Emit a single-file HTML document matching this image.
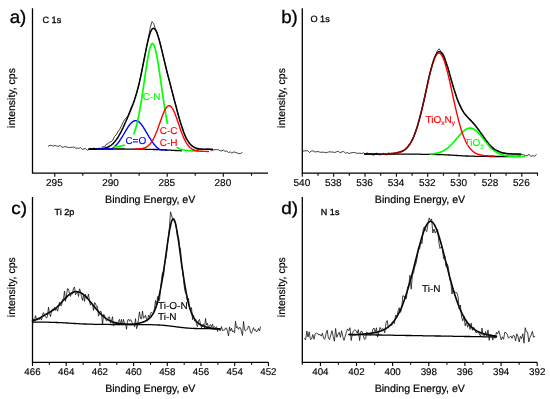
<!DOCTYPE html>
<html><head><meta charset="utf-8"><title>XPS spectra</title>
<style>html,body{margin:0;padding:0;background:#fff}svg{display:block}text{text-rendering:geometricPrecision}</style></head>
<body>
<svg width="550" height="399" viewBox="0 0 550 399">
<rect width="550" height="399" fill="#fff"/>
<path d="M32.5,8.3 V173.2 H268" fill="none" stroke="#000" stroke-width="1.3" stroke-linejoin="miter"/>
<path d="M54.8,173.2 v3.6M111.0,173.2 v3.6M167.2,173.2 v3.6M223.3,173.2 v3.6M82.8,173.2 v2.5M139.1,173.2 v2.5M195.2,173.2 v2.5M251.5,173.2 v2.5" stroke="#000" stroke-width="1.1" fill="none"/>
<text x="54.4" y="186.4" font-size="10.0" text-anchor="middle" font-family="Liberation Sans, Arial, sans-serif" fill="#000" stroke="#000" stroke-width="0.15">295</text>
<text x="110.5" y="186.4" font-size="10.0" text-anchor="middle" font-family="Liberation Sans, Arial, sans-serif" fill="#000" stroke="#000" stroke-width="0.15">290</text>
<text x="166.8" y="186.4" font-size="10.0" text-anchor="middle" font-family="Liberation Sans, Arial, sans-serif" fill="#000" stroke="#000" stroke-width="0.15">285</text>
<text x="222.9" y="186.4" font-size="10.0" text-anchor="middle" font-family="Liberation Sans, Arial, sans-serif" fill="#000" stroke="#000" stroke-width="0.15">280</text>
<text x="150.2" y="202.7" font-size="10.65" text-anchor="middle" font-family="Liberation Sans, Arial, sans-serif" fill="#000" stroke="#000" stroke-width="0.2">Binding Energy, eV</text>
<text transform="translate(15,98) rotate(-90)" font-size="10.5" text-anchor="middle" font-family="Liberation Sans, Arial, sans-serif" fill="#000" stroke="#000" stroke-width="0.2">intensity, cps</text>
<text transform="translate(9.7,23.0) scale(1.04,1)" font-size="18" font-family="Liberation Sans, Arial, sans-serif" fill="#000" stroke="#000" stroke-width="0.3">a)</text>
<text transform="translate(42.5,22.5) scale(1.0,1)" font-size="9.1" font-family="Liberation Sans, Arial, sans-serif" fill="#000" stroke="#000" stroke-width="0.3">C 1s</text>
<path d="M48.3,146.3 L50.0,145.2 L51.7,145.6 L53.4,146.0 L55.1,145.5 L56.8,146.1 L58.5,146.3 L60.2,145.4 L61.9,147.2 L63.6,147.1 L65.3,146.6 L67.0,147.0 L68.7,147.6 L70.4,147.3 L72.1,147.4 L73.8,146.9 L75.5,148.2 L77.2,148.1 L78.9,148.4 L80.6,147.5 L82.3,149.5 L84.0,148.8 L85.7,148.6 L87.4,150.3 L89.1,149.2 L90.8,148.4 L92.5,149.0 L94.2,147.8 L95.9,149.6 L97.6,148.6 L99.3,148.1 L101.0,148.8 L102.7,146.5 L104.4,147.0 L106.1,144.4 L107.8,143.9 L109.5,142.0 L111.2,141.8 L112.9,139.9 L114.6,136.4 L116.3,134.7 L118.0,131.6 L119.7,129.4 L121.4,125.9 L123.1,122.4 L124.8,119.4 L126.5,117.5 L128.2,115.3 L129.9,110.7 L131.6,106.4 L133.3,103.7 L135.0,98.0 L136.7,92.6 L138.4,86.4 L140.1,79.0 L141.8,71.0 L143.5,61.7 L145.2,54.1 L146.9,44.9 L148.6,36.8 L150.3,27.5 L152.0,21.6 L153.7,23.6 L155.4,28.9 L157.1,32.7 L158.8,38.0 L160.5,44.3 L162.2,51.4 L163.9,58.9 L165.6,65.4 L167.3,73.8 L169.0,79.4 L170.7,86.1 L172.4,93.4 L174.1,99.9 L175.8,105.4 L177.5,112.2 L179.2,118.6 L180.9,123.8 L182.6,128.1 L184.3,134.1 L186.0,138.1 L187.7,141.0 L189.4,142.7 L191.1,145.0 L192.8,146.1 L194.5,147.3 L196.2,148.9 L197.9,149.5 L199.6,149.3 L201.3,149.4 L203.0,149.6 L204.7,149.2 L206.4,149.2 L208.1,148.9 L209.8,149.3 L211.5,150.7 L213.2,150.1 L214.9,149.6 L216.6,149.7 L218.3,149.7 L220.0,150.7 L221.7,150.9 L223.4,150.1 L225.1,151.4 L226.8,151.0 L228.5,152.5 L230.2,151.9 L231.9,153.1 L233.6,152.0 L235.3,152.3 L237.0,152.9 L238.7,153.6 L240.4,153.5 L242.1,152.7" fill="none" stroke="#111" stroke-width="0.8" stroke-linejoin="round" stroke-linecap="round"/>
<path d="M89.0,149.0 L89.5,149.0 L90.0,149.0 L90.5,149.0 L91.0,149.0 L91.5,149.0 L92.0,149.0 L92.5,149.0 L93.0,149.0 L93.5,149.0 L94.0,149.0 L94.5,149.0 L95.0,149.0 L95.5,149.0 L96.0,149.0 L96.5,149.0 L97.0,149.0 L97.5,149.0 L98.0,149.0 L98.5,149.0 L99.0,149.0 L99.5,149.0 L100.0,149.0 L100.5,149.0 L101.0,149.0 L101.5,149.0 L102.0,149.0 L102.5,149.0 L103.0,149.0 L103.5,149.0 L104.0,149.0 L104.5,149.0 L105.0,149.0 L105.5,149.0 L106.0,149.0 L106.5,149.0 L107.0,149.0 L107.5,149.0 L108.0,149.0 L108.5,149.0 L109.0,149.0 L109.5,149.0 L110.0,149.0 L110.5,149.0 L111.0,149.0 L111.5,149.0 L112.0,149.0 L112.5,149.0 L113.0,149.0 L113.5,149.0 L114.0,149.0 L114.5,149.0 L115.0,149.0 L115.5,149.0 L116.0,149.0 L116.5,149.0 L117.0,149.0 L117.5,149.0 L118.0,149.0 L118.5,149.0 L119.0,149.0 L119.5,149.0 L120.0,149.0 L120.5,149.0 L121.0,149.0 L121.5,149.0 L122.0,149.0 L122.5,149.0 L123.0,149.0 L123.5,149.0 L124.0,149.0 L124.5,149.0 L125.0,149.1 L125.5,149.1 L126.0,149.1 L126.5,149.1 L127.0,149.1 L127.5,149.1 L128.0,149.1 L128.5,149.1 L129.0,149.1 L129.5,149.1 L130.0,149.1 L130.5,149.1 L131.0,149.1 L131.5,149.1 L132.0,149.1 L132.5,149.1 L133.0,149.1 L133.5,149.1 L134.0,149.1 L134.5,149.1 L135.0,149.1 L135.5,149.1 L136.0,149.1 L136.5,149.1 L137.0,149.1 L137.5,149.1 L138.0,149.1 L138.5,149.2 L139.0,149.2 L139.5,149.2 L140.0,149.2 L140.5,149.2 L141.0,149.2 L141.5,149.2 L142.0,149.2 L142.5,149.2 L143.0,149.2 L143.5,149.2 L144.0,149.2 L144.5,149.2 L145.0,149.2 L145.5,149.3 L146.0,149.3 L146.5,149.3 L147.0,149.3 L147.5,149.3 L148.0,149.3 L148.5,149.3 L149.0,149.3 L149.5,149.3 L150.0,149.4 L150.5,149.4 L151.0,149.4 L151.5,149.4 L152.0,149.4 L152.5,149.4 L153.0,149.4 L153.5,149.5 L154.0,149.5 L154.5,149.5 L155.0,149.5 L155.5,149.5 L156.0,149.5 L156.5,149.6 L157.0,149.6 L157.5,149.6 L158.0,149.6 L158.5,149.6 L159.0,149.7 L159.5,149.7 L160.0,149.7 L160.5,149.7 L161.0,149.7 L161.5,149.8 L162.0,149.8 L162.5,149.8 L163.0,149.8 L163.5,149.9 L164.0,149.9 L164.5,149.9 L165.0,149.9 L165.5,150.0 L166.0,150.0 L166.5,150.0 L167.0,150.0 L167.5,150.1 L168.0,150.1 L168.5,150.1 L169.0,150.1 L169.5,150.2 L170.0,150.2 L170.5,150.2 L171.0,150.2 L171.5,150.3 L172.0,150.3 L172.5,150.3 L173.0,150.4 L173.5,150.4 L174.0,150.4 L174.5,150.4 L175.0,150.5 L175.5,150.5 L176.0,150.5 L176.5,150.5 L177.0,150.6 L177.5,150.6 L178.0,150.6 L178.5,150.6 L179.0,150.7 L179.5,150.7 L180.0,150.7 L180.5,150.7 L181.0,150.8 L181.5,150.8" fill="none" stroke="#000" stroke-width="1.3" stroke-linejoin="round" stroke-linecap="round"/>
<path d="M89.0,149.3 L89.5,149.3 L90.0,149.3 L90.5,149.3 L91.0,149.3 L91.5,149.3 L92.0,149.3 L92.5,149.3 L93.0,149.3 L93.5,149.2 L94.0,149.2 L94.5,149.2 L95.0,149.2 L95.5,149.2 L96.0,149.2 L96.5,149.2 L97.0,149.1 L97.5,149.1 L98.0,149.1 L98.5,149.1 L99.0,149.0 L99.5,149.0 L100.0,149.0 L100.5,148.9 L101.0,148.9 L101.5,148.8 L102.0,148.7 L102.5,148.6 L103.0,148.6 L103.5,148.5 L104.0,148.4 L104.5,148.2 L105.0,148.1 L105.5,148.0 L106.0,147.8 L106.5,147.7 L107.0,147.5 L107.5,147.3 L108.0,147.0 L108.5,146.8 L109.0,146.5 L109.5,146.3 L110.0,145.9 L110.5,145.6 L111.0,145.3 L111.5,144.9 L112.0,144.5 L112.5,144.0 L113.0,143.6 L113.5,143.1 L114.0,142.5 L114.5,142.0 L115.0,141.4 L115.5,140.8 L116.0,140.1 L116.5,139.4 L117.0,138.7 L117.5,138.0 L118.0,137.2 L118.5,136.4 L119.0,135.5 L119.5,134.6 L120.0,133.7 L120.5,132.8 L121.0,131.8 L121.5,130.9 L122.0,129.8 L122.5,128.8 L123.0,127.8 L123.5,126.7 L124.0,125.6 L124.5,124.5 L125.0,123.4 L125.5,122.3 L126.0,121.2 L126.5,120.0 L127.0,118.9 L127.5,117.7 L128.0,116.5 L128.5,115.4 L129.0,114.2 L129.5,113.0 L130.0,111.8 L130.5,110.5 L131.0,109.3 L131.5,108.0 L132.0,106.7 L132.5,105.4 L133.0,104.1 L133.5,102.7 L134.0,101.3 L134.5,99.9 L135.0,98.3 L135.5,96.8 L136.0,95.2 L136.5,93.5 L137.0,91.7 L137.5,89.9 L138.0,88.0 L138.5,86.0 L139.0,84.0 L139.5,81.9 L140.0,79.7 L140.5,77.4 L141.0,75.1 L141.5,72.7 L142.0,70.2 L142.5,67.7 L143.0,65.2 L143.5,62.6 L144.0,60.0 L144.5,57.4 L145.0,54.8 L145.5,52.3 L146.0,49.8 L146.5,47.4 L147.0,45.0 L147.5,42.8 L148.0,40.6 L148.5,38.6 L149.0,36.7 L149.5,35.0 L150.0,33.5 L150.5,32.1 L151.0,31.0 L151.5,30.0 L152.0,29.2 L152.5,28.7 L153.0,28.4 L153.5,28.3 L154.0,28.4 L154.5,28.7 L155.0,29.2 L155.5,29.9 L156.0,30.8 L156.5,31.9 L157.0,33.1 L157.5,34.5 L158.0,36.0 L158.5,37.6 L159.0,39.3 L159.5,41.1 L160.0,43.0 L160.5,45.0 L161.0,47.0 L161.5,49.1 L162.0,51.1 L162.5,53.2 L163.0,55.3 L163.5,57.4 L164.0,59.5 L164.5,61.6 L165.0,63.7 L165.5,65.7 L166.0,67.7 L166.5,69.8 L167.0,71.7 L167.5,73.7 L168.0,75.7 L168.5,77.6 L169.0,79.5 L169.5,81.4 L170.0,83.4 L170.5,85.3 L171.0,87.2 L171.5,89.1 L172.0,91.0 L172.5,92.9 L173.0,94.8 L173.5,96.7 L174.0,98.6 L174.5,100.6 L175.0,102.5 L175.5,104.4 L176.0,106.3 L176.5,108.2 L177.0,110.1 L177.5,112.0 L178.0,113.8 L178.5,115.6 L179.0,117.4 L179.5,119.2 L180.0,120.9 L180.5,122.6 L181.0,124.3 L181.5,125.8 L182.0,127.4 L182.5,128.9 L183.0,130.3 L183.5,131.7 L184.0,133.0 L184.5,134.2 L185.0,135.4 L185.5,136.5 L186.0,137.6 L186.5,138.6 L187.0,139.5 L187.5,140.4 L188.0,141.2 L188.5,142.0 L189.0,142.7 L189.5,143.4 L190.0,144.0 L190.5,144.5 L191.0,145.0 L191.5,145.5 L192.0,145.9 L192.5,146.3 L193.0,146.6 L193.5,146.9 L194.0,147.2 L194.5,147.5 L195.0,147.7 L195.5,147.9 L196.0,148.1 L196.5,148.2 L197.0,148.4 L197.5,148.5 L198.0,148.6 L198.5,148.7 L199.0,148.8 L199.5,148.9 L200.0,148.9 L200.5,149.0 L201.0,149.0 L201.5,149.1 L202.0,149.1 L202.5,149.1 L203.0,149.2 L203.5,149.2 L204.0,149.2 L204.5,149.2 L205.0,149.2 L205.5,149.2 L206.0,149.3 L206.5,149.3 L207.0,149.3 L207.5,149.3 L208.0,149.3 L208.5,149.3 L209.0,149.3 L209.5,149.3 L210.0,149.3 L210.5,149.3 L211.0,149.3 L211.5,149.3 L212.0,149.3 L212.5,149.3" fill="none" stroke="#000" stroke-width="1.5" stroke-linejoin="round" stroke-linecap="round"/>
<path d="M98.0,149.0 L98.5,149.0 L99.0,149.0 L99.5,149.0 L100.0,149.0 L100.5,149.0 L101.0,149.0 L101.5,149.0 L102.0,149.0 L102.5,149.0 L103.0,149.0 L103.5,149.0 L104.0,149.0 L104.5,149.0 L105.0,149.0 L105.5,149.0 L106.0,149.0 L106.5,149.0 L107.0,149.0 L107.5,149.0 L108.0,149.0 L108.5,149.0 L109.0,149.0 L109.5,149.0 L110.0,149.0 L110.5,149.0 L111.0,149.0 L111.5,149.0 L112.0,148.7 L112.5,148.3 L113.0,148.0 L113.5,147.6 L114.0,147.2 L114.5,146.8 L115.0,146.3 L115.5,145.8 L116.0,145.3 L116.5,144.8 L117.0,144.2 L117.5,143.6 L118.0,143.0 L118.5,142.3 L119.0,141.7 L119.5,141.0 L120.0,140.2 L120.5,139.5 L121.0,138.7 L121.5,137.9 L122.0,137.1 L122.5,136.3 L123.0,135.5 L123.5,134.6 L124.0,133.8 L124.5,132.9 L125.0,132.1 L125.5,131.2 L126.0,130.4 L126.5,129.6 L127.0,128.8 L127.5,128.0 L128.0,127.2 L128.5,126.4 L129.0,125.7 L129.5,125.0 L130.0,124.4 L130.5,123.8 L131.0,123.2 L131.5,122.7 L132.0,122.3 L132.5,121.9 L133.0,121.5 L133.5,121.2 L134.0,121.0 L134.5,120.8 L135.0,120.7 L135.5,120.6 L136.0,120.6 L136.5,120.7 L137.0,120.8 L137.5,121.0 L138.0,121.3 L138.5,121.6 L139.0,122.0 L139.5,122.4 L140.0,122.9 L140.5,123.4 L141.0,124.0 L141.5,124.6 L142.0,125.3 L142.5,126.0 L143.0,126.7 L143.5,127.5 L144.0,128.3 L144.5,129.1 L145.0,129.9 L145.5,130.8 L146.0,131.6 L146.5,132.5 L147.0,133.4 L147.5,134.2 L148.0,135.1 L148.5,135.9 L149.0,136.8 L149.5,137.6 L150.0,138.4 L150.5,139.2 L151.0,140.0 L151.5,140.8 L152.0,141.5 L152.5,142.2 L153.0,142.9 L153.5,143.5 L154.0,144.2 L154.5,144.8 L155.0,145.4 L155.5,145.9 L156.0,146.4 L156.5,146.9 L157.0,147.4 L157.5,147.9 L158.0,148.3 L158.5,148.7 L159.0,149.0 L159.5,149.4 L160.0,149.7 L160.5,149.7 L161.0,149.7 L161.5,149.8 L162.0,149.8 L162.5,149.8 L163.0,149.8 L163.5,149.9 L164.0,149.9 L164.5,149.9 L165.0,149.9 L165.5,150.0 L166.0,150.0 L166.5,150.0" fill="none" stroke="#0000ff" stroke-width="1.4" stroke-linejoin="round" stroke-linecap="round"/>
<path d="M114.0,147.0 L114.5,147.0 L115.0,146.9 L115.5,146.8 L116.0,146.8 L116.5,146.7 L117.0,146.7 L117.5,146.6 L118.0,146.5 L118.5,146.5 L119.0,146.4 L119.5,146.3 L120.0,146.2 L120.5,146.1 L121.0,146.0 L121.5,145.9 L122.0,145.8 L122.5,145.6 L123.0,145.5 L123.5,145.3 L124.0,145.1 L124.5,145.0 L125.0,144.7 L125.5,144.5 L126.0,144.3 L126.5,144.0 L127.0,143.7 L127.5,143.3 L128.0,142.9 L128.5,142.5 L129.0,142.0 L129.5,141.5 L130.0,140.9 L130.5,140.2 L131.0,139.5 L131.5,138.7 L132.0,137.8 L132.5,136.9 L133.0,135.8 L133.5,134.7 L134.0,133.4 L134.5,132.1 L135.0,130.6 L135.5,129.0 L136.0,127.3 L136.5,125.4 L137.0,123.4 L137.5,121.3 L138.0,119.1 L138.5,116.7 L139.0,114.2 L139.5,111.5 L140.0,108.8 L140.5,105.9 L141.0,102.9 L141.5,99.8 L142.0,96.6 L142.5,93.3 L143.0,89.9 L143.5,86.5 L144.0,83.1 L144.5,79.6 L145.0,76.1 L145.5,72.7 L146.0,69.4 L146.5,66.1 L147.0,62.9 L147.5,59.9 L148.0,57.0 L148.5,54.3 L149.0,51.9 L149.5,49.7 L150.0,47.8 L150.5,46.3 L151.0,45.1 L151.5,44.2 L152.0,43.7 L152.5,43.6 L153.0,43.9 L153.5,44.5 L154.0,45.4 L154.5,46.6 L155.0,48.1 L155.5,50.0 L156.0,52.0 L156.5,54.4 L157.0,57.0 L157.5,59.7 L158.0,62.7 L158.5,65.8 L159.0,69.1 L159.5,72.4 L160.0,75.9 L160.5,79.4 L161.0,82.9 L161.5,86.5 L162.0,90.0 L162.5,93.5 L163.0,97.0 L163.5,100.3 L164.0,103.7 L164.5,106.9 L165.0,110.0 L165.5,113.0 L166.0,115.8 L166.5,118.6 L167.0,121.2 L167.5,123.6 L168.0,125.9 L168.5,128.1 L169.0,130.2 L169.5,132.0 L170.0,133.8 L170.5,135.4 L171.0,136.9 L171.5,138.3 L172.0,139.6 L172.5,140.7 L173.0,141.8 L173.5,142.7 L174.0,143.6 L174.5,144.4 L175.0,145.1 L175.5,145.7 L176.0,146.3 L176.5,146.8 L177.0,147.2 L177.5,147.6 L178.0,147.9 L178.5,148.3 L179.0,148.5 L179.5,148.8 L180.0,149.0 L180.5,149.2 L181.0,149.4 L181.5,149.5 L182.0,149.6 L182.5,149.8 L183.0,149.9 L183.5,150.0 L184.0,150.0 L184.5,150.1 L185.0,150.2 L185.5,150.3 L186.0,150.3 L186.5,150.4 L187.0,150.4 L187.5,150.5 L188.0,150.5 L188.5,150.5 L189.0,150.6 L189.5,150.6 L190.0,150.6 L190.5,150.7 L191.0,150.7 L191.5,150.7 L192.0,150.8 L192.5,150.8 L193.0,150.8 L193.5,150.8 L194.0,150.9 L194.5,150.9 L195.0,150.9 L195.5,150.9 L196.0,150.9 L196.5,151.0 L197.0,151.0 L197.5,151.0 L198.0,151.0 L198.5,151.0" fill="none" stroke="#00ff00" stroke-width="1.7" stroke-linejoin="round" stroke-linecap="round"/>
<rect x="124.5" y="134.5" width="22" height="10.5" fill="#fff"/>
<rect x="159" y="124" width="19" height="23" fill="#fff"/>
<path d="M135.5,149.1 L136.0,149.0 L136.5,149.0 L137.0,149.0 L137.5,149.0 L138.0,149.0 L138.5,149.0 L139.0,148.9 L139.5,148.9 L140.0,148.8 L140.5,148.8 L141.0,148.7 L141.5,148.7 L142.0,148.6 L142.5,148.5 L143.0,148.4 L143.5,148.2 L144.0,148.1 L144.5,147.9 L145.0,147.7 L145.5,147.5 L146.0,147.3 L146.5,147.0 L147.0,146.7 L147.5,146.4 L148.0,146.0 L148.5,145.6 L149.0,145.1 L149.5,144.6 L150.0,144.1 L150.5,143.5 L151.0,142.8 L151.5,142.1 L152.0,141.4 L152.5,140.6 L153.0,139.7 L153.5,138.8 L154.0,137.8 L154.5,136.7 L155.0,135.6 L155.5,134.5 L156.0,133.3 L156.5,132.0 L157.0,130.8 L157.5,129.4 L158.0,128.1 L158.5,126.7 L159.0,125.3 L159.5,123.8 L160.0,122.4 L160.5,121.0 L161.0,119.6 L161.5,118.2 L162.0,116.8 L162.5,115.5 L163.0,114.2 L163.5,113.0 L164.0,111.8 L164.5,110.7 L165.0,109.7 L165.5,108.8 L166.0,108.0 L166.5,107.3 L167.0,106.8 L167.5,106.3 L168.0,106.0 L168.5,105.7 L169.0,105.6 L169.5,105.7 L170.0,105.9 L170.5,106.2 L171.0,106.6 L171.5,107.1 L172.0,107.8 L172.5,108.5 L173.0,109.4 L173.5,110.4 L174.0,111.5 L174.5,112.6 L175.0,113.8 L175.5,115.1 L176.0,116.5 L176.5,117.8 L177.0,119.3 L177.5,120.7 L178.0,122.2 L178.5,123.7 L179.0,125.1 L179.5,126.6 L180.0,128.0 L180.5,129.5 L181.0,130.9 L181.5,132.2 L182.0,133.6 L182.5,134.8 L183.0,136.1 L183.5,137.2 L184.0,138.4 L184.5,139.4 L185.0,140.4 L185.5,141.4 L186.0,142.3 L186.5,143.1 L187.0,143.9 L187.5,144.6 L188.0,145.3 L188.5,145.9 L189.0,146.5 L189.5,147.0 L190.0,147.5 L190.5,147.9 L191.0,148.3 L191.5,148.7 L192.0,149.0 L192.5,149.3 L193.0,149.5 L193.5,149.8 L194.0,150.0 L194.5,150.2 L195.0,150.3 L195.5,150.5 L196.0,150.6 L196.5,150.7 L197.0,150.8 L197.5,150.9 L198.0,151.0 L198.5,151.0 L199.0,151.1 L199.5,151.1 L200.0,151.2 L200.5,151.2 L201.0,151.3 L201.5,151.3 L202.0,151.3 L202.5,151.3 L203.0,151.4 L203.5,151.4 L204.0,151.4 L204.5,151.4 L205.0,151.4 L205.5,151.4 L206.0,151.4 L206.5,151.4 L207.0,151.5 L207.5,151.5 L208.0,151.5 L208.5,151.5" fill="none" stroke="#ff0000" stroke-width="1.4" stroke-linejoin="round" stroke-linecap="round"/>
<text transform="translate(142.7,100.4) scale(1,1)" font-size="10" font-family="Liberation Sans, Arial, sans-serif" fill="#00ff00" stroke="#00ff00" stroke-width="0.15">C-N</text>
<text transform="translate(125.4,143.6) scale(1,1)" font-size="10" font-family="Liberation Sans, Arial, sans-serif" fill="#0000ff" stroke="#0000ff" stroke-width="0.15">C=O</text>
<text transform="translate(159.8,134) scale(1,1)" font-size="10" font-family="Liberation Sans, Arial, sans-serif" fill="#ff0000" stroke="#ff0000" stroke-width="0.15">C-C</text>
<text transform="translate(159.8,145.6) scale(1,1)" font-size="10" font-family="Liberation Sans, Arial, sans-serif" fill="#ff0000" stroke="#ff0000" stroke-width="0.15">C-H</text>
<path d="M302.3,8.3 V173.2 H538" fill="none" stroke="#000" stroke-width="1.3" stroke-linejoin="miter"/>
<path d="M302.3,173.2 v3.6M333.7,173.2 v3.6M365.0,173.2 v3.6M396.4,173.2 v3.6M427.7,173.2 v3.6M459.1,173.2 v3.6M490.5,173.2 v3.6M521.8,173.2 v3.6M318.0,173.2 v2.5M349.3,173.2 v2.5M380.7,173.2 v2.5M412.1,173.2 v2.5M443.4,173.2 v2.5M474.8,173.2 v2.5M506.1,173.2 v2.5M537.5,173.2 v2.5" stroke="#000" stroke-width="1.1" fill="none"/>
<text x="301.9" y="186.4" font-size="10.0" text-anchor="middle" font-family="Liberation Sans, Arial, sans-serif" fill="#000" stroke="#000" stroke-width="0.15">540</text>
<text x="333.3" y="186.4" font-size="10.0" text-anchor="middle" font-family="Liberation Sans, Arial, sans-serif" fill="#000" stroke="#000" stroke-width="0.15">538</text>
<text x="364.6" y="186.4" font-size="10.0" text-anchor="middle" font-family="Liberation Sans, Arial, sans-serif" fill="#000" stroke="#000" stroke-width="0.15">536</text>
<text x="396.0" y="186.4" font-size="10.0" text-anchor="middle" font-family="Liberation Sans, Arial, sans-serif" fill="#000" stroke="#000" stroke-width="0.15">534</text>
<text x="427.3" y="186.4" font-size="10.0" text-anchor="middle" font-family="Liberation Sans, Arial, sans-serif" fill="#000" stroke="#000" stroke-width="0.15">532</text>
<text x="458.7" y="186.4" font-size="10.0" text-anchor="middle" font-family="Liberation Sans, Arial, sans-serif" fill="#000" stroke="#000" stroke-width="0.15">530</text>
<text x="490.1" y="186.4" font-size="10.0" text-anchor="middle" font-family="Liberation Sans, Arial, sans-serif" fill="#000" stroke="#000" stroke-width="0.15">528</text>
<text x="521.4" y="186.4" font-size="10.0" text-anchor="middle" font-family="Liberation Sans, Arial, sans-serif" fill="#000" stroke="#000" stroke-width="0.15">526</text>
<text x="420" y="202.7" font-size="10.65" text-anchor="middle" font-family="Liberation Sans, Arial, sans-serif" fill="#000" stroke="#000" stroke-width="0.2">Binding Energy, eV</text>
<text transform="translate(285,98) rotate(-90)" font-size="10.5" text-anchor="middle" font-family="Liberation Sans, Arial, sans-serif" fill="#000" stroke="#000" stroke-width="0.2">intensity, cps</text>
<text transform="translate(281.2,23.0) scale(1.04,1)" font-size="18" font-family="Liberation Sans, Arial, sans-serif" fill="#000" stroke="#000" stroke-width="0.3">b)</text>
<text transform="translate(310.5,22.1) scale(1.0,1)" font-size="9.1" font-family="Liberation Sans, Arial, sans-serif" fill="#000" stroke="#000" stroke-width="0.3">O 1s</text>
<path d="M364.7,154.2 L365.2,154.2 L365.7,154.2 L366.2,154.2 L366.7,154.2 L367.2,154.2 L367.7,154.2 L368.2,154.2 L368.7,154.2 L369.2,154.2 L369.7,154.2 L370.2,154.2 L370.7,154.2 L371.2,154.2 L371.7,154.2 L372.2,154.2 L372.7,154.2 L373.2,154.2 L373.7,154.2 L374.2,154.2 L374.7,154.2 L375.2,154.2 L375.7,154.2 L376.2,154.2 L376.7,154.2 L377.2,154.2 L377.7,154.2 L378.2,154.2 L378.7,154.2 L379.2,154.2 L379.7,154.2 L380.2,154.2 L380.7,154.2 L381.2,154.2 L381.7,154.2 L382.2,154.2 L382.7,154.2 L383.2,154.2 L383.7,154.2 L384.2,154.2 L384.7,154.2 L385.2,154.2 L385.7,154.2 L386.2,154.2 L386.7,154.2 L387.2,154.2 L387.7,154.2 L388.2,154.2 L388.7,154.2 L389.2,154.2 L389.7,154.2 L390.2,154.2 L390.7,154.2 L391.2,154.2 L391.7,154.2 L392.2,154.2 L392.7,154.2 L393.2,154.2 L393.7,154.2 L394.2,154.2 L394.7,154.2 L395.2,154.2 L395.7,154.2 L396.2,154.2 L396.7,154.2 L397.2,154.2 L397.7,154.2 L398.2,154.2 L398.7,154.2 L399.2,154.2 L399.7,154.2 L400.2,154.2 L400.7,154.2 L401.2,154.2 L401.7,154.2 L402.2,154.2 L402.7,154.2 L403.2,154.2 L403.7,154.2 L404.2,154.2 L404.7,154.2 L405.2,154.2 L405.7,154.2 L406.2,154.2 L406.7,154.2 L407.2,154.2 L407.7,154.2 L408.2,154.2 L408.7,154.2 L409.2,154.2 L409.7,154.2 L410.2,154.2 L410.7,154.2 L411.2,154.2 L411.7,154.2 L412.2,154.2 L412.7,154.2 L413.2,154.2 L413.7,154.2 L414.2,154.2 L414.7,154.2 L415.2,154.2 L415.7,154.2 L416.2,154.2 L416.7,154.2 L417.2,154.2 L417.7,154.2 L418.2,154.2 L418.7,154.2 L419.2,154.2 L419.7,154.2 L420.2,154.2 L420.7,154.2 L421.2,154.3 L421.7,154.3 L422.2,154.3 L422.7,154.3 L423.2,154.3 L423.7,154.3 L424.2,154.3 L424.7,154.3 L425.2,154.3 L425.7,154.3 L426.2,154.3 L426.7,154.3 L427.2,154.3 L427.7,154.3 L428.2,154.3 L428.7,154.3 L429.2,154.3 L429.7,154.3 L430.2,154.3 L430.7,154.3 L431.2,154.4 L431.7,154.4 L432.2,154.4 L432.7,154.4 L433.2,154.4 L433.7,154.4 L434.2,154.4 L434.7,154.4 L435.2,154.4 L435.7,154.4 L436.2,154.5 L436.7,154.5 L437.2,154.5 L437.7,154.5 L438.2,154.5 L438.7,154.5 L439.2,154.5 L439.7,154.6 L440.2,154.6 L440.7,154.6 L441.2,154.6 L441.7,154.6 L442.2,154.6 L442.7,154.7 L443.2,154.7 L443.7,154.7 L444.2,154.7 L444.7,154.8 L445.2,154.8 L445.7,154.8 L446.2,154.8 L446.7,154.9 L447.2,154.9 L447.7,154.9 L448.2,154.9 L448.7,155.0 L449.2,155.0 L449.7,155.0 L450.2,155.1 L450.7,155.1 L451.2,155.1 L451.7,155.1 L452.2,155.2 L452.7,155.2 L453.2,155.2 L453.7,155.3 L454.2,155.3 L454.7,155.3 L455.2,155.4 L455.7,155.4 L456.2,155.4 L456.7,155.5 L457.2,155.5 L457.7,155.5 L458.2,155.6 L458.7,155.6 L459.2,155.6 L459.7,155.6 L460.2,155.7 L460.7,155.7 L461.2,155.7 L461.7,155.8 L462.2,155.8 L462.7,155.8 L463.2,155.8 L463.7,155.9 L464.2,155.9 L464.7,155.9 L465.2,155.9 L465.7,156.0 L466.2,156.0 L466.7,156.0 L467.2,156.0 L467.7,156.0 L468.2,156.1 L468.7,156.1 L469.2,156.1 L469.7,156.1 L470.2,156.1 L470.7,156.2 L471.2,156.2 L471.7,156.2 L472.2,156.2 L472.7,156.2 L473.2,156.2 L473.7,156.2 L474.2,156.3 L474.7,156.3 L475.2,156.3 L475.7,156.3 L476.2,156.3 L476.7,156.3 L477.2,156.3 L477.7,156.3 L478.2,156.3 L478.7,156.3 L479.2,156.4 L479.7,156.4 L480.2,156.4 L480.7,156.4 L481.2,156.4 L481.7,156.4 L482.2,156.4 L482.7,156.4 L483.2,156.4 L483.7,156.4 L484.2,156.4 L484.7,156.4 L485.2,156.4 L485.7,156.4 L486.2,156.4 L486.7,156.4 L487.2,156.4 L487.7,156.4 L488.2,156.4 L488.7,156.4 L489.2,156.4 L489.7,156.5 L490.2,156.5 L490.7,156.5 L491.2,156.5 L491.7,156.5 L492.2,156.5 L492.7,156.5 L493.2,156.5 L493.7,156.5 L494.2,156.5 L494.7,156.5 L495.2,156.5 L495.7,156.5 L496.2,156.5 L496.7,156.5 L497.2,156.5 L497.7,156.5 L498.2,156.5 L498.7,156.5 L499.2,156.5 L499.7,156.5 L500.2,156.5 L500.7,156.5 L501.2,156.5 L501.7,156.5 L502.2,156.5 L502.7,156.5 L503.2,156.5 L503.7,156.5 L504.2,156.5 L504.7,156.5 L505.2,156.5 L505.7,156.5 L506.2,156.5 L506.7,156.5 L507.2,156.5 L507.7,156.5 L508.2,156.5 L508.7,156.5 L509.2,156.5 L509.7,156.5 L510.2,156.5 L510.7,156.5 L511.2,156.5 L511.7,156.5 L512.2,156.5 L512.7,156.5 L513.2,156.5 L513.7,156.5 L514.2,156.5 L514.7,156.5 L515.2,156.5 L515.7,156.5 L516.2,156.5 L516.7,156.5 L517.2,156.5 L517.7,156.5 L518.2,156.5 L518.7,156.5 L519.2,156.5 L519.7,156.5 L520.2,156.5 L520.7,156.5" fill="none" stroke="#000" stroke-width="1.3" stroke-linejoin="round" stroke-linecap="round"/>
<path d="M364.7,154.1 L365.2,154.1 L365.7,154.1 L366.2,154.1 L366.7,154.1 L367.2,154.1 L367.7,154.1 L368.2,154.1 L368.7,154.1 L369.2,154.1 L369.7,154.0 L370.2,154.0 L370.7,154.0 L371.2,154.0 L371.7,154.0 L372.2,154.0 L372.7,154.0 L373.2,154.0 L373.7,154.0 L374.2,154.0 L374.7,154.0 L375.2,154.0 L375.7,154.0 L376.2,154.0 L376.7,154.0 L377.2,154.0 L377.7,154.0 L378.2,154.0 L378.7,154.0 L379.2,154.0 L379.7,154.0 L380.2,154.0 L380.7,153.9 L381.2,153.9 L381.7,153.9 L382.2,153.9 L382.7,153.9 L383.2,153.9 L383.7,153.9 L384.2,153.9 L384.7,153.9 L385.2,153.9 L385.7,153.9 L386.2,153.8 L386.7,153.8 L387.2,153.8 L387.7,153.8 L388.2,153.8 L388.7,153.8 L389.2,153.7 L389.7,153.7 L390.2,153.7 L390.7,153.7 L391.2,153.6 L391.7,153.6 L392.2,153.6 L392.7,153.5 L393.2,153.5 L393.7,153.4 L394.2,153.4 L394.7,153.3 L395.2,153.3 L395.7,153.2 L396.2,153.1 L396.7,153.0 L397.2,152.9 L397.7,152.8 L398.2,152.7 L398.7,152.6 L399.2,152.4 L399.7,152.3 L400.2,152.1 L400.7,151.9 L401.2,151.7 L401.7,151.5 L402.2,151.3 L402.7,151.0 L403.2,150.8 L403.7,150.5 L404.2,150.1 L404.7,149.8 L405.2,149.4 L405.7,149.0 L406.2,148.5 L406.7,148.0 L407.2,147.5 L407.7,147.0 L408.2,146.4 L408.7,145.7 L409.2,145.1 L409.7,144.3 L410.2,143.6 L410.7,142.7 L411.2,141.9 L411.7,140.9 L412.2,139.9 L412.7,138.9 L413.2,137.8 L413.7,136.7 L414.2,135.4 L414.7,134.2 L415.2,132.8 L415.7,131.4 L416.2,130.0 L416.7,128.5 L417.2,126.9 L417.7,125.2 L418.2,123.5 L418.7,121.8 L419.2,120.0 L419.7,118.1 L420.2,116.2 L420.7,114.2 L421.2,112.2 L421.7,110.1 L422.2,108.0 L422.7,105.8 L423.2,103.6 L423.7,101.4 L424.2,99.2 L424.7,96.9 L425.2,94.6 L425.7,92.4 L426.2,90.1 L426.7,87.8 L427.2,85.5 L427.7,83.3 L428.2,81.1 L428.7,78.9 L429.2,76.7 L429.7,74.6 L430.2,72.6 L430.7,70.6 L431.2,68.6 L431.7,66.8 L432.2,65.0 L432.7,63.3 L433.2,61.7 L433.7,60.2 L434.2,58.8 L434.7,57.6 L435.2,56.4 L435.7,55.4 L436.2,54.4 L436.7,53.7 L437.2,53.0 L437.7,52.5 L438.2,52.1 L438.7,51.8 L439.2,51.7 L439.7,51.7 L440.2,51.9 L440.7,52.1 L441.2,52.5 L441.7,53.1 L442.2,53.7 L442.7,54.5 L443.2,55.4 L443.7,56.4 L444.2,57.5 L444.7,58.7 L445.2,59.9 L445.7,61.3 L446.2,62.7 L446.7,64.2 L447.2,65.8 L447.7,67.4 L448.2,69.1 L448.7,70.8 L449.2,72.5 L449.7,74.3 L450.2,76.0 L450.7,77.8 L451.2,79.6 L451.7,81.3 L452.2,83.1 L452.7,84.8 L453.2,86.5 L453.7,88.2 L454.2,89.9 L454.7,91.5 L455.2,93.1 L455.7,94.6 L456.2,96.1 L456.7,97.6 L457.2,99.0 L457.7,100.3 L458.2,101.6 L458.7,102.8 L459.2,104.0 L459.7,105.1 L460.2,106.2 L460.7,107.2 L461.2,108.2 L461.7,109.1 L462.2,110.0 L462.7,110.8 L463.2,111.6 L463.7,112.4 L464.2,113.1 L464.7,113.8 L465.2,114.4 L465.7,115.0 L466.2,115.6 L466.7,116.2 L467.2,116.8 L467.7,117.3 L468.2,117.8 L468.7,118.4 L469.2,118.9 L469.7,119.4 L470.2,119.9 L470.7,120.4 L471.2,120.9 L471.7,121.5 L472.2,122.0 L472.7,122.6 L473.2,123.1 L473.7,123.7 L474.2,124.2 L474.7,124.8 L475.2,125.4 L475.7,126.1 L476.2,126.7 L476.7,127.3 L477.2,128.0 L477.7,128.6 L478.2,129.3 L478.7,130.0 L479.2,130.7 L479.7,131.4 L480.2,132.1 L480.7,132.8 L481.2,133.5 L481.7,134.3 L482.2,135.0 L482.7,135.7 L483.2,136.4 L483.7,137.1 L484.2,137.8 L484.7,138.5 L485.2,139.2 L485.7,139.9 L486.2,140.6 L486.7,141.2 L487.2,141.8 L487.7,142.5 L488.2,143.1 L488.7,143.7 L489.2,144.2 L489.7,144.8 L490.2,145.3 L490.7,145.9 L491.2,146.4 L491.7,146.8 L492.2,147.3 L492.7,147.7 L493.2,148.2 L493.7,148.6 L494.2,148.9 L494.7,149.3 L495.2,149.6 L495.7,150.0 L496.2,150.3 L496.7,150.6 L497.2,150.8 L497.7,151.1 L498.2,151.3 L498.7,151.6 L499.2,151.8 L499.7,152.0 L500.2,152.1 L500.7,152.3 L501.2,152.5 L501.7,152.6 L502.2,152.7 L502.7,152.9 L503.2,153.0 L503.7,153.1 L504.2,153.2 L504.7,153.3 L505.2,153.3 L505.7,153.4 L506.2,153.5 L506.7,153.6 L507.2,153.6 L507.7,153.7 L508.2,153.7 L508.7,153.7 L509.2,153.8 L509.7,153.8 L510.2,153.8 L510.7,153.9 L511.2,153.9 L511.7,153.9 L512.2,153.9 L512.7,154.0 L513.2,154.0 L513.7,154.0 L514.2,154.0 L514.7,154.0 L515.2,154.0 L515.7,154.0 L516.2,154.1 L516.7,154.1 L517.2,154.1 L517.7,154.1 L518.2,154.1 L518.7,154.1 L519.2,154.1 L519.7,154.1 L520.2,154.1 L520.7,154.1" fill="none" stroke="#000" stroke-width="1.5" stroke-linejoin="round" stroke-linecap="round"/>
<path d="M430.0,154.0 L430.5,154.0 L431.0,153.9 L431.5,153.9 L432.0,153.9 L432.5,153.8 L433.0,153.8 L433.5,153.7 L434.0,153.6 L434.5,153.6 L435.0,153.5 L435.5,153.4 L436.0,153.3 L436.5,153.2 L437.0,153.1 L437.5,153.0 L438.0,152.9 L438.5,152.8 L439.0,152.6 L439.5,152.5 L440.0,152.3 L440.5,152.1 L441.0,151.9 L441.5,151.7 L442.0,151.5 L442.5,151.3 L443.0,151.1 L443.5,150.8 L444.0,150.5 L444.5,150.2 L445.0,149.9 L445.5,149.6 L446.0,149.3 L446.5,148.9 L447.0,148.6 L447.5,148.2 L448.0,147.8 L448.5,147.4 L449.0,146.9 L449.5,146.5 L450.0,146.0 L450.5,145.5 L451.0,145.0 L451.5,144.5 L452.0,144.0 L452.5,143.5 L453.0,142.9 L453.5,142.3 L454.0,141.8 L454.5,141.2 L455.0,140.6 L455.5,140.0 L456.0,139.4 L456.5,138.8 L457.0,138.2 L457.5,137.6 L458.0,137.1 L458.5,136.5 L459.0,135.9 L459.5,135.3 L460.0,134.7 L460.5,134.2 L461.0,133.6 L461.5,133.1 L462.0,132.6 L462.5,132.1 L463.0,131.6 L463.5,131.2 L464.0,130.8 L464.5,130.4 L465.0,130.0 L465.5,129.7 L466.0,129.4 L466.5,129.1 L467.0,128.8 L467.5,128.6 L468.0,128.5 L468.5,128.3 L469.0,128.2 L469.5,128.2 L470.0,128.1 L470.5,128.2 L471.0,128.2 L471.5,128.3 L472.0,128.4 L472.5,128.6 L473.0,128.8 L473.5,129.0 L474.0,129.3 L474.5,129.6 L475.0,129.9 L475.5,130.3 L476.0,130.7 L476.5,131.1 L477.0,131.6 L477.5,132.0 L478.0,132.5 L478.5,133.1 L479.0,133.6 L479.5,134.2 L480.0,134.7 L480.5,135.3 L481.0,135.9 L481.5,136.5 L482.0,137.2 L482.5,137.8 L483.0,138.4 L483.5,139.0 L484.0,139.7 L484.5,140.3 L485.0,140.9 L485.5,141.6 L486.0,142.2 L486.5,142.8 L487.0,143.4 L487.5,144.0 L488.0,144.6 L488.5,145.2 L489.0,145.7 L489.5,146.3 L490.0,146.8 L490.5,147.3 L491.0,147.8 L491.5,148.3 L492.0,148.8 L492.5,149.2 L493.0,149.7 L493.5,150.1 L494.0,150.5 L494.5,150.9 L495.0,151.2 L495.5,151.6 L496.0,151.9 L496.5,152.2 L497.0,152.5 L497.5,152.8 L498.0,153.1 L498.5,153.3 L499.0,153.6 L499.5,153.8 L500.0,154.0 L500.5,154.2 L501.0,154.4 L501.5,154.5 L502.0,154.7 L502.5,154.9 L503.0,155.0 L503.5,155.1 L504.0,155.2 L504.5,155.4 L505.0,155.5 L505.5,155.6 L506.0,155.6 L506.5,155.7 L507.0,155.8 L507.5,155.9 L508.0,155.9 L508.5,156.0 L509.0,156.0 L509.5,156.1 L510.0,156.1 L510.5,156.2 L511.0,156.2 L511.5,156.2 L512.0,156.3 L512.5,156.3 L513.0,156.3 L513.5,156.3 L514.0,156.3 L514.5,156.4 L515.0,156.4 L515.5,156.4 L516.0,156.4 L516.5,156.4 L517.0,156.4 L517.5,156.4 L518.0,156.4 L518.5,156.5 L519.0,156.5 L519.5,156.5 L520.0,156.5 L520.5,156.5 L521.0,156.5 L521.5,156.5 L522.0,156.5 L522.5,156.5 L523.0,156.5 L523.5,156.5 L524.0,156.5 L524.5,156.5" fill="none" stroke="#00ff00" stroke-width="1.7" stroke-linejoin="round" stroke-linecap="round"/>
<path d="M380.0,153.9 L380.5,153.8 L381.0,153.8 L381.5,153.8 L382.0,153.8 L382.5,153.8 L383.0,153.8 L383.5,153.8 L384.0,153.8 L384.5,153.8 L385.0,153.8 L385.5,153.8 L386.0,153.7 L386.5,153.7 L387.0,153.7 L387.5,153.7 L388.0,153.7 L388.5,153.7 L389.0,153.7 L389.5,153.6 L390.0,153.6 L390.5,153.6 L391.0,153.5 L391.5,153.5 L392.0,153.5 L392.5,153.4 L393.0,153.4 L393.5,153.4 L394.0,153.3 L394.5,153.2 L395.0,153.2 L395.5,153.1 L396.0,153.0 L396.5,153.0 L397.0,152.9 L397.5,152.8 L398.0,152.7 L398.5,152.5 L399.0,152.4 L399.5,152.3 L400.0,152.1 L400.5,151.9 L401.0,151.7 L401.5,151.5 L402.0,151.3 L402.5,151.0 L403.0,150.8 L403.5,150.5 L404.0,150.2 L404.5,149.8 L405.0,149.4 L405.5,149.0 L406.0,148.6 L406.5,148.1 L407.0,147.6 L407.5,147.1 L408.0,146.5 L408.5,145.9 L409.0,145.2 L409.5,144.5 L410.0,143.8 L410.5,143.0 L411.0,142.1 L411.5,141.2 L412.0,140.3 L412.5,139.2 L413.0,138.2 L413.5,137.0 L414.0,135.9 L414.5,134.6 L415.0,133.3 L415.5,131.9 L416.0,130.5 L416.5,129.0 L417.0,127.4 L417.5,125.8 L418.0,124.2 L418.5,122.4 L419.0,120.6 L419.5,118.8 L420.0,116.9 L420.5,114.9 L421.0,112.9 L421.5,110.9 L422.0,108.8 L422.5,106.7 L423.0,104.5 L423.5,102.3 L424.0,100.1 L424.5,97.8 L425.0,95.6 L425.5,93.3 L426.0,91.0 L426.5,88.8 L427.0,86.5 L427.5,84.3 L428.0,82.1 L428.5,79.9 L429.0,77.7 L429.5,75.6 L430.0,73.6 L430.5,71.6 L431.0,69.6 L431.5,67.8 L432.0,66.0 L432.5,64.3 L433.0,62.7 L433.5,61.2 L434.0,59.9 L434.5,58.6 L435.0,57.4 L435.5,56.4 L436.0,55.5 L436.5,54.8 L437.0,54.1 L437.5,53.7 L438.0,53.3 L438.5,53.1 L439.0,53.0 L439.5,53.1 L440.0,53.4 L440.5,53.7 L441.0,54.3 L441.5,54.9 L442.0,55.7 L442.5,56.6 L443.0,57.7 L443.5,58.9 L444.0,60.2 L444.5,61.6 L445.0,63.1 L445.5,64.7 L446.0,66.5 L446.5,68.3 L447.0,70.2 L447.5,72.1 L448.0,74.1 L448.5,76.2 L449.0,78.4 L449.5,80.6 L450.0,82.8 L450.5,85.0 L451.0,87.3 L451.5,89.6 L452.0,91.9 L452.5,94.2 L453.0,96.5 L453.5,98.8 L454.0,101.1 L454.5,103.3 L455.0,105.6 L455.5,107.8 L456.0,109.9 L456.5,112.1 L457.0,114.1 L457.5,116.2 L458.0,118.2 L458.5,120.1 L459.0,122.0 L459.5,123.8 L460.0,125.6 L460.5,127.3 L461.0,128.9 L461.5,130.5 L462.0,132.0 L462.5,133.5 L463.0,134.9 L463.5,136.2 L464.0,137.5 L464.5,138.7 L465.0,139.9 L465.5,141.0 L466.0,142.0 L466.5,143.0 L467.0,143.9 L467.5,144.8 L468.0,145.6 L468.5,146.4 L469.0,147.1 L469.5,147.8 L470.0,148.4 L470.5,149.0 L471.0,149.6 L471.5,150.1 L472.0,150.6 L472.5,151.1 L473.0,151.5 L473.5,151.9 L474.0,152.2 L474.5,152.5 L475.0,152.8 L475.5,153.1 L476.0,153.4 L476.5,153.6 L477.0,153.8 L477.5,154.0 L478.0,154.2 L478.5,154.4 L479.0,154.5 L479.5,154.7 L480.0,154.8 L480.5,154.9 L481.0,155.0 L481.5,155.1 L482.0,155.2 L482.5,155.3 L483.0,155.4 L483.5,155.5 L484.0,155.5 L484.5,155.6 L485.0,155.6 L485.5,155.7 L486.0,155.7 L486.5,155.7 L487.0,155.8 L487.5,155.8 L488.0,155.8 L488.5,155.9 L489.0,155.9 L489.5,155.9 L490.0,155.9 L490.5,156.0 L491.0,156.0 L491.5,156.0 L492.0,156.0 L492.5,156.0 L493.0,156.0 L493.5,156.1 L494.0,156.1 L494.5,156.1" fill="none" stroke="#ff0000" stroke-width="1.4" stroke-linejoin="round" stroke-linecap="round"/>
<path d="M302.3,151.0 L304.1,151.0 L305.9,150.8 L307.7,150.7 L309.5,152.5 L311.3,151.1 L313.1,150.8 L314.9,152.0 L316.7,151.7 L318.5,151.6 L320.3,152.3 L322.1,152.2 L323.9,152.2 L325.7,152.7 L327.5,152.3 L329.3,151.8 L331.1,152.0 L332.9,152.0 L334.7,152.6 L336.5,151.8 L338.3,151.3 L340.1,152.8 L341.9,151.9 L343.7,151.5 L345.5,153.2 L347.3,152.6 L349.1,153.5 L350.9,152.9 L352.7,152.5 L354.5,152.5 L356.3,153.1 L358.1,153.4 L359.9,153.1 L361.7,153.6 L363.5,152.8 L365.3,154.1 L367.1,152.8 L368.9,153.9 L370.7,154.5 L372.5,154.8 L374.3,155.2 L376.1,152.9 L377.9,154.5 L379.7,154.8 L381.5,154.6 L383.3,153.3 L385.1,154.2 L386.9,155.1 L388.7,152.7 L390.5,154.0 L392.3,154.3 L394.1,152.9 L395.9,153.6 L397.7,152.1 L399.5,151.8 L401.3,151.1 L403.1,150.9 L404.9,149.6 L406.7,148.7 L408.5,145.3 L410.3,143.3 L412.1,140.8 L413.9,136.6 L415.7,130.5 L417.5,126.4 L419.3,119.2 L421.1,112.8 L422.9,105.2 L424.7,97.8 L426.5,88.8 L428.3,79.3 L430.1,72.0 L431.9,66.5 L433.7,59.7 L435.5,55.4 L437.3,50.9 L439.1,48.8 L440.9,51.5 L442.7,53.3 L444.5,56.6 L446.3,64.5 L448.1,67.4 L449.9,75.4 L451.7,82.0 L453.5,87.7 L455.3,92.2 L457.1,99.4 L458.9,102.3 L460.7,106.3 L462.5,110.2 L464.3,113.8 L466.1,115.7 L467.9,118.1 L469.7,119.1 L471.5,121.1 L473.3,122.4 L475.1,125.1 L476.9,128.0 L478.7,129.8 L480.5,132.9 L482.3,134.7 L484.1,137.3 L485.9,140.2 L487.7,142.3 L489.5,145.0 L491.3,146.6 L493.1,149.3 L494.9,149.3 L496.7,150.4 L498.5,150.7 L500.3,152.2 L502.1,153.2 L503.9,152.6 L505.7,153.4 L507.5,154.1 L509.3,153.7 L511.1,153.5 L512.9,154.7 L514.7,154.1 L516.5,154.3 L518.3,154.9 L520.1,154.9 L521.9,154.5 L523.7,154.8 L525.5,155.7 L527.3,155.5 L529.1,154.3 L530.9,156.5 L532.7,155.6 L534.5,156.1 L536.3,154.8" fill="none" stroke="#111" stroke-width="0.8" stroke-linejoin="round" stroke-linecap="round"/>
<text x="425.5" y="122.6" font-size="10" font-family="Liberation Sans, Arial, sans-serif" fill="#ff0000" stroke="#ff0000" stroke-width="0.15">TiO<tspan font-size="6.5" dy="2.5">x</tspan><tspan dy="-2.5">N</tspan><tspan font-size="6.5" dy="2.5">y</tspan></text>
<text x="464.5" y="146" font-size="10" font-family="Liberation Sans, Arial, sans-serif" fill="#00ff00" stroke="#00ff00" stroke-width="0.15">TiO<tspan font-size="6.5" dy="2.5">2</tspan></text>
<path d="M32.5,197 V362.3 H268.4" fill="none" stroke="#000" stroke-width="1.3" stroke-linejoin="miter"/>
<path d="M32.5,362.3 v3.6M66.2,362.3 v3.6M99.9,362.3 v3.6M133.6,362.3 v3.6M167.3,362.3 v3.6M201.0,362.3 v3.6M234.7,362.3 v3.6M268.4,362.3 v3.6M49.4,362.3 v2.5M83.1,362.3 v2.5M116.8,362.3 v2.5M150.5,362.3 v2.5M184.2,362.3 v2.5M217.9,362.3 v2.5M251.6,362.3 v2.5" stroke="#000" stroke-width="1.1" fill="none"/>
<text x="32.5" y="375.4" font-size="9.75" text-anchor="middle" font-family="Liberation Sans, Arial, sans-serif" fill="#000" stroke="#000" stroke-width="0.15">466</text>
<text x="66.2" y="375.4" font-size="9.75" text-anchor="middle" font-family="Liberation Sans, Arial, sans-serif" fill="#000" stroke="#000" stroke-width="0.15">464</text>
<text x="99.9" y="375.4" font-size="9.75" text-anchor="middle" font-family="Liberation Sans, Arial, sans-serif" fill="#000" stroke="#000" stroke-width="0.15">462</text>
<text x="133.6" y="375.4" font-size="9.75" text-anchor="middle" font-family="Liberation Sans, Arial, sans-serif" fill="#000" stroke="#000" stroke-width="0.15">460</text>
<text x="167.3" y="375.4" font-size="9.75" text-anchor="middle" font-family="Liberation Sans, Arial, sans-serif" fill="#000" stroke="#000" stroke-width="0.15">458</text>
<text x="201.0" y="375.4" font-size="9.75" text-anchor="middle" font-family="Liberation Sans, Arial, sans-serif" fill="#000" stroke="#000" stroke-width="0.15">456</text>
<text x="234.7" y="375.4" font-size="9.75" text-anchor="middle" font-family="Liberation Sans, Arial, sans-serif" fill="#000" stroke="#000" stroke-width="0.15">454</text>
<text x="268.4" y="375.4" font-size="9.75" text-anchor="middle" font-family="Liberation Sans, Arial, sans-serif" fill="#000" stroke="#000" stroke-width="0.15">452</text>
<text x="150.3" y="391.7" font-size="10.65" text-anchor="middle" font-family="Liberation Sans, Arial, sans-serif" fill="#000" stroke="#000" stroke-width="0.2">Binding Energy, eV</text>
<text transform="translate(14.9,287.2) rotate(-90)" font-size="10.5" text-anchor="middle" font-family="Liberation Sans, Arial, sans-serif" fill="#000" stroke="#000" stroke-width="0.2">intensity, cps</text>
<text transform="translate(11.3,213.9) scale(1.1,1)" font-size="17.3" font-family="Liberation Sans, Arial, sans-serif" fill="#000" stroke="#000" stroke-width="0.3">c)</text>
<text transform="translate(54.6,215.0) scale(1.03,1)" font-size="8.8" font-family="Liberation Sans, Arial, sans-serif" fill="#000" stroke="#000" stroke-width="0.3">Ti 2p</text>
<path d="M32.5,322.1 L33.0,322.1 L33.5,322.1 L34.0,322.1 L34.5,322.1 L35.0,322.1 L35.5,322.1 L36.0,322.1 L36.5,322.1 L37.0,322.1 L37.5,322.1 L38.0,322.1 L38.5,322.1 L39.0,322.1 L39.5,322.1 L40.0,322.1 L40.5,322.1 L41.0,322.1 L41.5,322.1 L42.0,322.1 L42.5,322.1 L43.0,322.1 L43.5,322.2 L44.0,322.2 L44.5,322.2 L45.0,322.2 L45.5,322.2 L46.0,322.2 L46.5,322.2 L47.0,322.2 L47.5,322.2 L48.0,322.2 L48.5,322.2 L49.0,322.2 L49.5,322.3 L50.0,322.3 L50.5,322.3 L51.0,322.3 L51.5,322.3 L52.0,322.3 L52.5,322.3 L53.0,322.4 L53.5,322.4 L54.0,322.4 L54.5,322.4 L55.0,322.4 L55.5,322.4 L56.0,322.5 L56.5,322.5 L57.0,322.5 L57.5,322.5 L58.0,322.5 L58.5,322.6 L59.0,322.6 L59.5,322.6 L60.0,322.6 L60.5,322.6 L61.0,322.7 L61.5,322.7 L62.0,322.7 L62.5,322.7 L63.0,322.8 L63.5,322.8 L64.0,322.8 L64.5,322.9 L65.0,322.9 L65.5,322.9 L66.0,322.9 L66.5,323.0 L67.0,323.0 L67.5,323.0 L68.0,323.1 L68.5,323.1 L69.0,323.1 L69.5,323.2 L70.0,323.2 L70.5,323.2 L71.0,323.3 L71.5,323.3 L72.0,323.3 L72.5,323.3 L73.0,323.4 L73.5,323.4 L74.0,323.4 L74.5,323.5 L75.0,323.5 L75.5,323.5 L76.0,323.6 L76.5,323.6 L77.0,323.6 L77.5,323.6 L78.0,323.7 L78.5,323.7 L79.0,323.7 L79.5,323.8 L80.0,323.8 L80.5,323.8 L81.0,323.8 L81.5,323.9 L82.0,323.9 L82.5,323.9 L83.0,323.9 L83.5,323.9 L84.0,324.0 L84.5,324.0 L85.0,324.0 L85.5,324.0 L86.0,324.0 L86.5,324.1 L87.0,324.1 L87.5,324.1 L88.0,324.1 L88.5,324.1 L89.0,324.1 L89.5,324.2 L90.0,324.2 L90.5,324.2 L91.0,324.2 L91.5,324.2 L92.0,324.2 L92.5,324.2 L93.0,324.3 L93.5,324.3 L94.0,324.3 L94.5,324.3 L95.0,324.3 L95.5,324.3 L96.0,324.3 L96.5,324.3 L97.0,324.3 L97.5,324.3 L98.0,324.3 L98.5,324.4 L99.0,324.4 L99.5,324.4 L100.0,324.4 L100.5,324.4 L101.0,324.4 L101.5,324.4 L102.0,324.4 L102.5,324.4 L103.0,324.4 L103.5,324.4 L104.0,324.4 L104.5,324.4 L105.0,324.4 L105.5,324.4 L106.0,324.4 L106.5,324.4 L107.0,324.4 L107.5,324.4 L108.0,324.4 L108.5,324.4 L109.0,324.4 L109.5,324.4 L110.0,324.5 L110.5,324.5 L111.0,324.5 L111.5,324.5 L112.0,324.5 L112.5,324.5 L113.0,324.5 L113.5,324.5 L114.0,324.5 L114.5,324.5 L115.0,324.5 L115.5,324.5 L116.0,324.5 L116.5,324.5 L117.0,324.5 L117.5,324.5 L118.0,324.5 L118.5,324.5 L119.0,324.5 L119.5,324.5 L120.0,324.5 L120.5,324.5 L121.0,324.5 L121.5,324.5 L122.0,324.5 L122.5,324.5 L123.0,324.5 L123.5,324.5 L124.0,324.5 L124.5,324.5 L125.0,324.5 L125.5,324.5 L126.0,324.5 L126.5,324.5 L127.0,324.5 L127.5,324.5 L128.0,324.5 L128.5,324.5 L129.0,324.5 L129.5,324.5 L130.0,324.5 L130.5,324.5 L131.0,324.5 L131.5,324.5 L132.0,324.5 L132.5,324.5 L133.0,324.5 L133.5,324.5 L134.0,324.5 L134.5,324.5 L135.0,324.5 L135.5,324.5 L136.0,324.5 L136.5,324.5 L137.0,324.5 L137.5,324.5 L138.0,324.5 L138.5,324.5 L139.0,324.5 L139.5,324.5 L140.0,324.6 L140.5,324.6 L141.0,324.6 L141.5,324.6 L142.0,324.6 L142.5,324.6 L143.0,324.6 L143.5,324.6 L144.0,324.6 L144.5,324.6 L145.0,324.6 L145.5,324.6 L146.0,324.6 L146.5,324.6 L147.0,324.6 L147.5,324.6 L148.0,324.6 L148.5,324.7 L149.0,324.7 L149.5,324.7 L150.0,324.7 L150.5,324.7 L151.0,324.7 L151.5,324.7 L152.0,324.7 L152.5,324.7 L153.0,324.8 L153.5,324.8 L154.0,324.8 L154.5,324.8 L155.0,324.8 L155.5,324.8 L156.0,324.9 L156.5,324.9 L157.0,324.9 L157.5,324.9 L158.0,325.0 L158.5,325.0 L159.0,325.0 L159.5,325.0 L160.0,325.1 L160.5,325.1 L161.0,325.1 L161.5,325.2 L162.0,325.2 L162.5,325.2 L163.0,325.3 L163.5,325.3 L164.0,325.4 L164.5,325.4 L165.0,325.5 L165.5,325.5 L166.0,325.6 L166.5,325.6 L167.0,325.7 L167.5,325.7 L168.0,325.8 L168.5,325.8 L169.0,325.9 L169.5,325.9 L170.0,326.0 L170.5,326.1 L171.0,326.1 L171.5,326.2 L172.0,326.3 L172.5,326.3 L173.0,326.4 L173.5,326.4 L174.0,326.5 L174.5,326.6 L175.0,326.6 L175.5,326.7 L176.0,326.8 L176.5,326.9 L177.0,326.9 L177.5,327.0 L178.0,327.0 L178.5,327.1 L179.0,327.2 L179.5,327.2 L180.0,327.3 L180.5,327.4 L181.0,327.4 L181.5,327.5 L182.0,327.5 L182.5,327.6 L183.0,327.6 L183.5,327.7 L184.0,327.7 L184.5,327.8 L185.0,327.8 L185.5,327.9 L186.0,327.9 L186.5,328.0 L187.0,328.0 L187.5,328.1 L188.0,328.1 L188.5,328.1 L189.0,328.2 L189.5,328.2 L190.0,328.2 L190.5,328.3 L191.0,328.3 L191.5,328.3 L192.0,328.3 L192.5,328.4 L193.0,328.4 L193.5,328.4 L194.0,328.4 L194.5,328.5 L195.0,328.5 L195.5,328.5 L196.0,328.5 L196.5,328.5 L197.0,328.5 L197.5,328.6 L198.0,328.6 L198.5,328.6 L199.0,328.6 L199.5,328.6 L200.0,328.6 L200.5,328.6 L201.0,328.6 L201.5,328.6 L202.0,328.7 L202.5,328.7 L203.0,328.7 L203.5,328.7 L204.0,328.7 L204.5,328.7 L205.0,328.7 L205.5,328.7 L206.0,328.7 L206.5,328.7 L207.0,328.7 L207.5,328.7 L208.0,328.7 L208.5,328.7 L209.0,328.7 L209.5,328.7 L210.0,328.7 L210.5,328.7 L211.0,328.8 L211.5,328.8 L212.0,328.8 L212.5,328.8 L213.0,328.8 L213.5,328.8 L214.0,328.8 L214.5,328.8 L215.0,328.8 L215.5,328.8 L216.0,328.8 L216.5,328.8 L217.0,328.8 L217.5,328.8 L218.0,328.8 L218.5,328.8 L219.0,328.8 L219.5,328.8 L220.0,328.8" fill="none" stroke="#000" stroke-width="1.3" stroke-linejoin="round" stroke-linecap="round"/>
<path d="M32.5,320.9 L33.0,320.8 L33.5,320.7 L34.0,320.5 L34.5,320.4 L35.0,320.2 L35.5,320.0 L36.0,319.8 L36.5,319.6 L37.0,319.4 L37.5,319.2 L38.0,318.9 L38.5,318.7 L39.0,318.4 L39.5,318.1 L40.0,317.9 L40.5,317.6 L41.0,317.3 L41.5,317.0 L42.0,316.7 L42.5,316.4 L43.0,316.1 L43.5,315.8 L44.0,315.5 L44.5,315.2 L45.0,314.9 L45.5,314.6 L46.0,314.3 L46.5,314.1 L47.0,313.8 L47.5,313.5 L48.0,313.2 L48.5,312.9 L49.0,312.6 L49.5,312.4 L50.0,312.1 L50.5,311.8 L51.0,311.5 L51.5,311.2 L52.0,310.9 L52.5,310.5 L53.0,310.2 L53.5,309.8 L54.0,309.5 L54.5,309.1 L55.0,308.7 L55.5,308.3 L56.0,307.9 L56.5,307.5 L57.0,307.0 L57.5,306.5 L58.0,306.1 L58.5,305.6 L59.0,305.1 L59.5,304.6 L60.0,304.0 L60.5,303.5 L61.0,303.0 L61.5,302.4 L62.0,301.9 L62.5,301.3 L63.0,300.8 L63.5,300.2 L64.0,299.7 L64.5,299.2 L65.0,298.6 L65.5,298.1 L66.0,297.6 L66.5,297.1 L67.0,296.6 L67.5,296.1 L68.0,295.7 L68.5,295.2 L69.0,294.8 L69.5,294.4 L70.0,294.1 L70.5,293.7 L71.0,293.4 L71.5,293.1 L72.0,292.8 L72.5,292.5 L73.0,292.3 L73.5,292.1 L74.0,292.0 L74.5,291.8 L75.0,291.7 L75.5,291.7 L76.0,291.6 L76.5,291.6 L77.0,291.6 L77.5,291.7 L78.0,291.7 L78.5,291.9 L79.0,292.0 L79.5,292.2 L80.0,292.4 L80.5,292.6 L81.0,292.9 L81.5,293.2 L82.0,293.5 L82.5,293.8 L83.0,294.2 L83.5,294.6 L84.0,295.0 L84.5,295.4 L85.0,295.9 L85.5,296.4 L86.0,296.9 L86.5,297.4 L87.0,297.9 L87.5,298.5 L88.0,299.0 L88.5,299.6 L89.0,300.2 L89.5,300.8 L90.0,301.4 L90.5,302.0 L91.0,302.6 L91.5,303.2 L92.0,303.8 L92.5,304.5 L93.0,305.1 L93.5,305.7 L94.0,306.3 L94.5,306.9 L95.0,307.6 L95.5,308.2 L96.0,308.8 L96.5,309.4 L97.0,309.9 L97.5,310.5 L98.0,311.1 L98.5,311.6 L99.0,312.2 L99.5,312.7 L100.0,313.2 L100.5,313.7 L101.0,314.2 L101.5,314.7 L102.0,315.2 L102.5,315.6 L103.0,316.1 L103.5,316.5 L104.0,316.9 L104.5,317.3 L105.0,317.7 L105.5,318.1 L106.0,318.4 L106.5,318.8 L107.0,319.1 L107.5,319.4 L108.0,319.7 L108.5,320.0 L109.0,320.3 L109.5,320.5 L110.0,320.8 L110.5,321.0 L111.0,321.2 L111.5,321.5 L112.0,321.7 L112.5,321.9 L113.0,322.0 L113.5,322.2 L114.0,322.4 L114.5,322.5 L115.0,322.7 L115.5,322.8 L116.0,322.9 L116.5,323.0 L117.0,323.1 L117.5,323.3 L118.0,323.3 L118.5,323.4 L119.0,323.5 L119.5,323.6 L120.0,323.7 L120.5,323.7 L121.0,323.8 L121.5,323.9 L122.0,323.9 L122.5,324.0 L123.0,324.0 L123.5,324.1 L124.0,324.1 L124.5,324.1 L125.0,324.2 L125.5,324.2 L126.0,324.2 L126.5,324.3 L127.0,324.3 L127.5,324.3 L128.0,324.3 L128.5,324.3 L129.0,324.4 L129.5,324.4 L130.0,324.4 L130.5,324.4 L131.0,324.4 L131.5,324.4 L132.0,324.4 L132.5,324.3 L133.0,324.2 L133.5,324.2 L134.0,324.1 L134.5,324.0 L135.0,324.0 L135.5,323.9 L136.0,323.8 L136.5,323.7 L137.0,323.6 L137.5,323.5 L138.0,323.4 L138.5,323.3 L139.0,323.2 L139.5,323.1 L140.0,322.9 L140.5,322.8 L141.0,322.7 L141.5,322.5 L142.0,322.4 L142.5,322.2 L143.0,322.0 L143.5,321.9 L144.0,321.7 L144.5,321.5 L145.0,321.2 L145.5,321.0 L146.0,320.7 L146.5,320.5 L147.0,320.2 L147.5,319.9 L148.0,319.5 L148.5,319.1 L149.0,318.7 L149.5,318.3 L150.0,317.8 L150.5,317.3 L151.0,316.7 L151.5,316.0 L152.0,315.3 L152.5,314.6 L153.0,313.8 L153.5,312.9 L154.0,311.9 L154.5,310.8 L155.0,309.7 L155.5,308.4 L156.0,307.0 L156.5,305.6 L157.0,304.0 L157.5,302.3 L158.0,300.5 L158.5,298.5 L159.0,296.4 L159.5,294.2 L160.0,291.9 L160.5,289.4 L161.0,286.7 L161.5,284.0 L162.0,281.1 L162.5,278.1 L163.0,274.9 L163.5,271.7 L164.0,268.4 L164.5,264.9 L165.0,261.4 L165.5,257.9 L166.0,254.3 L166.5,250.7 L167.0,247.1 L167.5,243.6 L168.0,240.1 L168.5,236.8 L169.0,233.6 L169.5,230.7 L170.0,227.9 L170.5,225.5 L171.0,223.4 L171.5,221.6 L172.0,220.3 L172.5,219.4 L173.0,219.0 L173.5,219.0 L174.0,219.5 L174.5,220.4 L175.0,221.8 L175.5,223.6 L176.0,225.8 L176.5,228.3 L177.0,231.1 L177.5,234.1 L178.0,237.4 L178.5,240.8 L179.0,244.3 L179.5,248.0 L180.0,251.7 L180.5,255.4 L181.0,259.1 L181.5,262.7 L182.0,266.3 L182.5,269.9 L183.0,273.3 L183.5,276.7 L184.0,279.9 L184.5,283.1 L185.0,286.1 L185.5,288.9 L186.0,291.7 L186.5,294.3 L187.0,296.7 L187.5,299.0 L188.0,301.2 L188.5,303.3 L189.0,305.2 L189.5,306.9 L190.0,308.6 L190.5,310.2 L191.0,311.6 L191.5,312.9 L192.0,314.1 L192.5,315.3 L193.0,316.3 L193.5,317.2 L194.0,318.1 L194.5,318.9 L195.0,319.7 L195.5,320.3 L196.0,321.0 L196.5,321.5 L197.0,322.0 L197.5,322.5 L198.0,323.0 L198.5,323.4 L199.0,323.7 L199.5,324.1 L200.0,324.4 L200.5,324.7 L201.0,325.0 L201.5,325.2 L202.0,325.5 L202.5,325.7 L203.0,325.9 L203.5,326.1 L204.0,326.3 L204.5,326.5 L205.0,326.6 L205.5,326.8 L206.0,326.9 L206.5,327.1 L207.0,327.2 L207.5,327.4 L208.0,327.5 L208.5,327.6 L209.0,327.7 L209.5,327.8 L210.0,327.9 L210.5,328.0 L211.0,328.1 L211.5,328.2 L212.0,328.3 L212.5,328.4 L213.0,328.5 L213.5,328.5 L214.0,328.6 L214.5,328.7 L215.0,328.8 L215.5,328.8 L216.0,328.8 L216.5,328.8 L217.0,328.8 L217.5,328.8 L218.0,328.8 L218.5,328.8 L219.0,328.8 L219.5,328.8 L220.0,328.8" fill="none" stroke="#000" stroke-width="1.6" stroke-linejoin="round" stroke-linecap="round"/>
<path d="M32.5,325.0 L33.5,318.8 L34.5,320.0 L35.5,315.6 L36.5,319.1 L37.5,318.4 L38.5,318.1 L39.5,319.5 L40.5,317.8 L41.5,320.1 L42.5,314.9 L43.5,312.6 L44.5,315.2 L45.5,316.7 L46.5,318.1 L47.5,316.1 L48.5,307.2 L49.5,313.6 L50.5,316.6 L51.5,311.4 L52.5,308.8 L53.5,310.9 L54.5,307.4 L55.5,310.4 L56.5,307.4 L57.5,311.2 L58.5,307.3 L59.5,302.1 L60.5,305.6 L61.5,305.6 L62.5,299.4 L63.5,298.8 L64.5,291.1 L65.5,301.3 L66.5,295.0 L67.5,288.7 L68.5,289.0 L69.5,293.6 L70.5,296.4 L71.5,292.8 L72.5,294.2 L73.5,288.2 L74.5,287.0 L75.5,294.8 L76.5,293.4 L77.5,291.6 L78.5,296.5 L79.5,288.8 L80.5,291.1 L81.5,296.8 L82.5,300.4 L83.5,294.6 L84.5,301.4 L85.5,294.3 L86.5,298.5 L87.5,297.9 L88.5,294.1 L89.5,301.7 L90.5,305.2 L91.5,302.7 L92.5,304.2 L93.5,310.4 L94.5,302.7 L95.5,303.2 L96.5,307.2 L97.5,306.6 L98.5,316.1 L99.5,313.7 L100.5,310.9 L101.5,312.7 L102.5,324.9 L103.5,314.6 L104.5,314.9 L105.5,319.0 L106.5,320.8 L107.5,320.1 L108.5,317.1 L109.5,316.9 L110.5,322.9 L111.5,321.3 L112.5,316.7 L113.5,325.8 L114.5,324.9 L115.5,322.0 L116.5,322.2 L117.5,324.0 L118.5,321.3 L119.5,319.4 L120.5,324.7 L121.5,319.3 L122.5,325.1 L123.5,319.4 L124.5,323.6 L125.5,323.4 L126.5,329.3 L127.5,320.4 L128.5,319.2 L129.5,321.3 L130.5,319.6 L131.5,321.0 L132.5,323.7 L133.5,324.3 L134.5,326.6 L135.5,318.6 L136.5,328.7 L137.5,326.2 L138.5,318.9 L139.5,311.9 L140.5,318.6 L141.5,318.8 L142.5,311.0 L143.5,318.3 L144.5,317.3 L145.5,315.2 L146.5,319.5 L147.5,320.5 L148.5,315.3 L149.5,317.1 L150.5,313.6 L151.5,312.2 L152.5,313.8 L153.5,313.8 L154.5,308.3 L155.5,300.5 L156.5,307.2 L157.5,296.6 L158.5,298.8 L159.5,300.4 L160.5,289.2 L161.5,279.5 L162.5,272.5 L163.5,276.2 L164.5,264.8 L165.5,260.0 L166.5,254.5 L167.5,243.4 L168.5,235.5 L169.5,226.5 L170.5,211.8 L171.5,214.8 L172.5,219.1 L173.5,218.2 L174.5,222.2 L175.5,223.0 L176.5,229.0 L177.5,237.5 L178.5,237.0 L179.5,246.8 L180.5,248.8 L181.5,266.6 L182.5,270.0 L183.5,278.6 L184.5,288.8 L185.5,292.9 L186.5,294.1 L187.5,301.8 L188.5,298.4 L189.5,308.4 L190.5,310.6 L191.5,307.6 L192.5,319.6 L193.5,315.0 L194.5,321.1 L195.5,319.0 L196.5,324.6 L197.5,326.6 L198.5,320.8 L199.5,319.4 L200.5,324.3 L201.5,327.8 L202.5,324.6 L203.5,324.2 L204.5,328.0 L205.5,318.4 L206.5,325.1 L207.5,323.2 L208.5,328.5 L209.5,325.6 L210.5,324.7 L211.5,327.1 L212.5,324.0 L213.5,328.5 L214.5,326.6 L215.5,327.6 L216.5,326.6 L217.5,331.5 L218.5,328.5 L219.5,330.4 L220.5,330.5 L221.5,326.6 L222.5,330.8 L223.5,330.2 L224.5,330.1 L225.5,328.0 L226.5,328.0 L227.5,331.6 L228.5,335.9 L229.5,326.9 L230.5,331.0 L231.5,328.3 L232.5,331.8 L233.5,330.8 L234.5,332.7 L235.5,321.2 L236.5,327.8 L237.5,326.7 L238.5,329.4 L239.5,327.5 L240.5,327.8 L241.5,331.8 L242.5,335.5 L243.5,321.4 L244.5,329.0 L245.5,330.9 L246.5,330.0 L247.5,329.0 L248.5,326.0 L249.5,327.3 L250.5,332.3 L251.5,333.4 L252.5,330.5 L253.5,327.7 L254.5,330.5 L255.5,329.6 L256.5,332.0 L257.5,330.7 L258.5,328.5 L259.5,331.0 L260.5,326.9" fill="none" stroke="#111" stroke-width="0.8" stroke-linejoin="round" stroke-linecap="round"/>
<text transform="translate(158,308.5) scale(1,1)" font-size="10" font-family="Liberation Sans, Arial, sans-serif" fill="#000" stroke="#000" stroke-width="0.15">Ti-O-N</text>
<text transform="translate(158,320) scale(1,1)" font-size="10" font-family="Liberation Sans, Arial, sans-serif" fill="#000" stroke="#000" stroke-width="0.15">Ti-N</text>
<path d="M302.3,197 V362.3 H537.2" fill="none" stroke="#000" stroke-width="1.3" stroke-linejoin="miter"/>
<path d="M320.4,362.3 v3.6M356.5,362.3 v3.6M392.6,362.3 v3.6M428.8,362.3 v3.6M464.9,362.3 v3.6M501.1,362.3 v3.6M537.2,362.3 v3.6M302.3,362.3 v2.5M338.4,362.3 v2.5M374.6,362.3 v2.5M410.7,362.3 v2.5M446.9,362.3 v2.5M483.0,362.3 v2.5M519.1,362.3 v2.5" stroke="#000" stroke-width="1.1" fill="none"/>
<text x="320.4" y="375.4" font-size="9.75" text-anchor="middle" font-family="Liberation Sans, Arial, sans-serif" fill="#000" stroke="#000" stroke-width="0.15">404</text>
<text x="356.5" y="375.4" font-size="9.75" text-anchor="middle" font-family="Liberation Sans, Arial, sans-serif" fill="#000" stroke="#000" stroke-width="0.15">402</text>
<text x="392.6" y="375.4" font-size="9.75" text-anchor="middle" font-family="Liberation Sans, Arial, sans-serif" fill="#000" stroke="#000" stroke-width="0.15">400</text>
<text x="428.8" y="375.4" font-size="9.75" text-anchor="middle" font-family="Liberation Sans, Arial, sans-serif" fill="#000" stroke="#000" stroke-width="0.15">398</text>
<text x="464.9" y="375.4" font-size="9.75" text-anchor="middle" font-family="Liberation Sans, Arial, sans-serif" fill="#000" stroke="#000" stroke-width="0.15">396</text>
<text x="501.1" y="375.4" font-size="9.75" text-anchor="middle" font-family="Liberation Sans, Arial, sans-serif" fill="#000" stroke="#000" stroke-width="0.15">394</text>
<text x="537.2" y="375.4" font-size="9.75" text-anchor="middle" font-family="Liberation Sans, Arial, sans-serif" fill="#000" stroke="#000" stroke-width="0.15">392</text>
<text x="419.8" y="391.7" font-size="10.65" text-anchor="middle" font-family="Liberation Sans, Arial, sans-serif" fill="#000" stroke="#000" stroke-width="0.2">Binding Energy, eV</text>
<text transform="translate(284.8,287.2) rotate(-90)" font-size="10.5" text-anchor="middle" font-family="Liberation Sans, Arial, sans-serif" fill="#000" stroke="#000" stroke-width="0.2">intensity, cps</text>
<text transform="translate(281.3,213.9) scale(1.1,1)" font-size="17.3" font-family="Liberation Sans, Arial, sans-serif" fill="#000" stroke="#000" stroke-width="0.3">d)</text>
<text transform="translate(320.8,215.0) scale(1.03,1)" font-size="8.8" font-family="Liberation Sans, Arial, sans-serif" fill="#000" stroke="#000" stroke-width="0.3">N 1s</text>
<path d="M349.0,334.5 L349.5,334.5 L350.0,334.5 L350.5,334.5 L351.0,334.5 L351.5,334.5 L352.0,334.6 L352.5,334.6 L353.0,334.6 L353.5,334.6 L354.0,334.6 L354.5,334.6 L355.0,334.6 L355.5,334.6 L356.0,334.6 L356.5,334.6 L357.0,334.6 L357.5,334.6 L358.0,334.7 L358.5,334.7 L359.0,334.7 L359.5,334.7 L360.0,334.7 L360.5,334.7 L361.0,334.7 L361.5,334.7 L362.0,334.7 L362.5,334.7 L363.0,334.7 L363.5,334.7 L364.0,334.8 L364.5,334.8 L365.0,334.8 L365.5,334.8 L366.0,334.8 L366.5,334.8 L367.0,334.8 L367.5,334.8 L368.0,334.8 L368.5,334.8 L369.0,334.8 L369.5,334.8 L370.0,334.9 L370.5,334.9 L371.0,334.9 L371.5,334.9 L372.0,334.9 L372.5,334.9 L373.0,334.9 L373.5,334.9 L374.0,334.9 L374.5,334.9 L375.0,334.9 L375.5,334.9 L376.0,335.0 L376.5,335.0 L377.0,335.0 L377.5,335.0 L378.0,335.0 L378.5,335.0 L379.0,335.0 L379.5,335.0 L380.0,335.0 L380.5,335.0 L381.0,335.0 L381.5,335.0 L382.0,335.1 L382.5,335.1 L383.0,335.1 L383.5,335.1 L384.0,335.1 L384.5,335.1 L385.0,335.1 L385.5,335.1 L386.0,335.1 L386.5,335.1 L387.0,335.1 L387.5,335.2 L388.0,335.2 L388.5,335.2 L389.0,335.2 L389.5,335.2 L390.0,335.2 L390.5,335.2 L391.0,335.2 L391.5,335.2 L392.0,335.2 L392.5,335.2 L393.0,335.2 L393.5,335.3 L394.0,335.3 L394.5,335.3 L395.0,335.3 L395.5,335.3 L396.0,335.3 L396.5,335.3 L397.0,335.3 L397.5,335.3 L398.0,335.3 L398.5,335.3 L399.0,335.3 L399.5,335.4 L400.0,335.4 L400.5,335.4 L401.0,335.4 L401.5,335.4 L402.0,335.4 L402.5,335.4 L403.0,335.4 L403.5,335.4 L404.0,335.4 L404.5,335.4 L405.0,335.4 L405.5,335.5 L406.0,335.5 L406.5,335.5 L407.0,335.5 L407.5,335.5 L408.0,335.5 L408.5,335.5 L409.0,335.5 L409.5,335.5 L410.0,335.5 L410.5,335.5 L411.0,335.5 L411.5,335.6 L412.0,335.6 L412.5,335.6 L413.0,335.6 L413.5,335.6 L414.0,335.6 L414.5,335.6 L415.0,335.6 L415.5,335.6 L416.0,335.6 L416.5,335.6 L417.0,335.6 L417.5,335.7 L418.0,335.7 L418.5,335.7 L419.0,335.7 L419.5,335.7 L420.0,335.7 L420.5,335.7 L421.0,335.7 L421.5,335.7 L422.0,335.7 L422.5,335.7 L423.0,335.8 L423.5,335.8 L424.0,335.8 L424.5,335.8 L425.0,335.8 L425.5,335.8 L426.0,335.8 L426.5,335.8 L427.0,335.8 L427.5,335.8 L428.0,335.8 L428.5,335.8 L429.0,335.9 L429.5,335.9 L430.0,335.9 L430.5,335.9 L431.0,335.9 L431.5,335.9 L432.0,335.9 L432.5,335.9 L433.0,335.9 L433.5,335.9 L434.0,335.9 L434.5,335.9 L435.0,336.0 L435.5,336.0 L436.0,336.0 L436.5,336.0 L437.0,336.0 L437.5,336.0 L438.0,336.0 L438.5,336.0 L439.0,336.0 L439.5,336.0 L440.0,336.0 L440.5,336.0 L441.0,336.1 L441.5,336.1 L442.0,336.1 L442.5,336.1 L443.0,336.1 L443.5,336.1 L444.0,336.1 L444.5,336.1 L445.0,336.1 L445.5,336.1 L446.0,336.1 L446.5,336.1 L447.0,336.2 L447.5,336.2 L448.0,336.2 L448.5,336.2 L449.0,336.2 L449.5,336.2 L450.0,336.2 L450.5,336.2 L451.0,336.2 L451.5,336.2 L452.0,336.2 L452.5,336.2 L453.0,336.3 L453.5,336.3 L454.0,336.3 L454.5,336.3 L455.0,336.3 L455.5,336.3 L456.0,336.3 L456.5,336.3 L457.0,336.3 L457.5,336.3 L458.0,336.3 L458.5,336.3 L459.0,336.4 L459.5,336.4 L460.0,336.4 L460.5,336.4 L461.0,336.4 L461.5,336.4 L462.0,336.4 L462.5,336.4 L463.0,336.4 L463.5,336.4 L464.0,336.4 L464.5,336.5 L465.0,336.5 L465.5,336.5 L466.0,336.5 L466.5,336.5 L467.0,336.5 L467.5,336.5 L468.0,336.5 L468.5,336.5 L469.0,336.5 L469.5,336.5 L470.0,336.5 L470.5,336.6 L471.0,336.6 L471.5,336.6 L472.0,336.6 L472.5,336.6 L473.0,336.6 L473.5,336.6 L474.0,336.6 L474.5,336.6 L475.0,336.6 L475.5,336.6 L476.0,336.6 L476.5,336.7 L477.0,336.7 L477.5,336.7 L478.0,336.7 L478.5,336.7 L479.0,336.7 L479.5,336.7 L480.0,336.7 L480.5,336.7 L481.0,336.7 L481.5,336.7 L482.0,336.7 L482.5,336.8 L483.0,336.8 L483.5,336.8 L484.0,336.8 L484.5,336.8 L485.0,336.8 L485.5,336.8 L486.0,336.8 L486.5,336.8 L487.0,336.8 L487.5,336.8 L488.0,336.8 L488.5,336.9 L489.0,336.9 L489.5,336.9 L490.0,336.9 L490.5,336.9 L491.0,336.9 L491.5,336.9 L492.0,336.9 L492.5,336.9 L493.0,336.9 L493.5,336.9 L494.0,336.9 L494.5,337.0 L495.0,337.0 L495.5,337.0 L496.0,337.0 L496.5,337.0" fill="none" stroke="#000" stroke-width="1.3" stroke-linejoin="round" stroke-linecap="round"/>
<path d="M349.0,334.5 L349.5,334.5 L350.0,334.5 L350.5,334.5 L351.0,334.5 L351.5,334.5 L352.0,334.6 L352.5,334.6 L353.0,334.6 L353.5,334.6 L354.0,334.6 L354.5,334.6 L355.0,334.6 L355.5,334.6 L356.0,334.6 L356.5,334.5 L357.0,334.5 L357.5,334.5 L358.0,334.4 L358.5,334.4 L359.0,334.4 L359.5,334.4 L360.0,334.3 L360.5,334.3 L361.0,334.3 L361.5,334.2 L362.0,334.2 L362.5,334.1 L363.0,334.1 L363.5,334.1 L364.0,334.0 L364.5,334.0 L365.0,333.9 L365.5,333.9 L366.0,333.8 L366.5,333.8 L367.0,333.7 L367.5,333.7 L368.0,333.6 L368.5,333.6 L369.0,333.5 L369.5,333.5 L370.0,333.4 L370.5,333.3 L371.0,333.3 L371.5,333.2 L372.0,333.1 L372.5,333.0 L373.0,332.9 L373.5,332.9 L374.0,332.8 L374.5,332.7 L375.0,332.6 L375.5,332.5 L376.0,332.4 L376.5,332.2 L377.0,332.1 L377.5,332.0 L378.0,331.9 L378.5,331.7 L379.0,331.6 L379.5,331.4 L380.0,331.3 L380.5,331.1 L381.0,330.9 L381.5,330.7 L382.0,330.5 L382.5,330.3 L383.0,330.1 L383.5,329.9 L384.0,329.6 L384.5,329.4 L385.0,329.1 L385.5,328.8 L386.0,328.5 L386.5,328.2 L387.0,327.9 L387.5,327.5 L388.0,327.1 L388.5,326.8 L389.0,326.3 L389.5,325.9 L390.0,325.5 L390.5,325.0 L391.0,324.5 L391.5,324.0 L392.0,323.4 L392.5,322.9 L393.0,322.3 L393.5,321.7 L394.0,321.0 L394.5,320.3 L395.0,319.6 L395.5,318.9 L396.0,318.1 L396.5,317.3 L397.0,316.5 L397.5,315.6 L398.0,314.7 L398.5,313.7 L399.0,312.8 L399.5,311.7 L400.0,310.7 L400.5,309.6 L401.0,308.5 L401.5,307.3 L402.0,306.1 L402.5,304.9 L403.0,303.6 L403.5,302.3 L404.0,300.9 L404.5,299.5 L405.0,298.1 L405.5,296.6 L406.0,295.1 L406.5,293.5 L407.0,292.0 L407.5,290.3 L408.0,288.7 L408.5,287.0 L409.0,285.3 L409.5,283.5 L410.0,281.8 L410.5,279.9 L411.0,278.1 L411.5,276.3 L412.0,274.4 L412.5,272.5 L413.0,270.6 L413.5,268.6 L414.0,266.7 L414.5,264.8 L415.0,262.8 L415.5,260.8 L416.0,258.9 L416.5,256.9 L417.0,255.0 L417.5,253.0 L418.0,251.1 L418.5,249.2 L419.0,247.3 L419.5,245.5 L420.0,243.6 L420.5,241.9 L421.0,240.1 L421.5,238.4 L422.0,236.8 L422.5,235.2 L423.0,233.7 L423.5,232.2 L424.0,230.8 L424.5,229.5 L425.0,228.3 L425.5,227.1 L426.0,226.1 L426.5,225.1 L427.0,224.3 L427.5,223.5 L428.0,222.9 L428.5,222.4 L429.0,221.9 L429.5,221.6 L430.0,221.5 L430.5,221.4 L431.0,221.4 L431.5,221.6 L432.0,221.9 L432.5,222.3 L433.0,222.8 L433.5,223.4 L434.0,224.1 L434.5,224.9 L435.0,225.9 L435.5,226.9 L436.0,228.0 L436.5,229.2 L437.0,230.5 L437.5,231.9 L438.0,233.3 L438.5,234.8 L439.0,236.4 L439.5,238.1 L440.0,239.7 L440.5,241.5 L441.0,243.3 L441.5,245.1 L442.0,247.0 L442.5,248.8 L443.0,250.8 L443.5,252.7 L444.0,254.6 L444.5,256.6 L445.0,258.6 L445.5,260.6 L446.0,262.5 L446.5,264.5 L447.0,266.5 L447.5,268.4 L448.0,270.4 L448.5,272.3 L449.0,274.2 L449.5,276.2 L450.0,278.0 L450.5,279.9 L451.0,281.7 L451.5,283.5 L452.0,285.3 L452.5,287.1 L453.0,288.8 L453.5,290.5 L454.0,292.1 L454.5,293.7 L455.0,295.3 L455.5,296.8 L456.0,298.3 L456.5,299.8 L457.0,301.2 L457.5,302.6 L458.0,304.0 L458.5,305.3 L459.0,306.6 L459.5,307.8 L460.0,309.0 L460.5,310.2 L461.0,311.3 L461.5,312.4 L462.0,313.4 L462.5,314.4 L463.0,315.4 L463.5,316.3 L464.0,317.2 L464.5,318.1 L465.0,319.0 L465.5,319.8 L466.0,320.5 L466.5,321.3 L467.0,322.0 L467.5,322.7 L468.0,323.3 L468.5,323.9 L469.0,324.5 L469.5,325.1 L470.0,325.6 L470.5,326.2 L471.0,326.7 L471.5,327.1 L472.0,327.6 L472.5,328.0 L473.0,328.4 L473.5,328.8 L474.0,329.2 L474.5,329.5 L475.0,329.9 L475.5,330.2 L476.0,330.5 L476.5,330.8 L477.0,331.1 L477.5,331.4 L478.0,331.6 L478.5,331.9 L479.0,332.1 L479.5,332.3 L480.0,332.5 L480.5,332.7 L481.0,332.9 L481.5,333.1 L482.0,333.3 L482.5,333.4 L483.0,333.6 L483.5,333.7 L484.0,333.9 L484.5,334.0 L485.0,334.2 L485.5,334.3 L486.0,334.4 L486.5,334.5 L487.0,334.6 L487.5,334.7 L488.0,334.8 L488.5,334.9 L489.0,335.0 L489.5,335.1 L490.0,335.2 L490.5,335.3 L491.0,335.4 L491.5,335.5 L492.0,335.6 L492.5,335.6 L493.0,335.7 L493.5,335.8 L494.0,335.9 L494.5,335.9 L495.0,336.0 L495.5,336.1 L496.0,336.1 L496.5,336.2" fill="none" stroke="#000" stroke-width="1.6" stroke-linejoin="round" stroke-linecap="round"/>
<path d="M304.4,338.5 L305.6,339.9 L306.8,331.1 L308.0,337.1 L309.2,331.8 L310.4,339.5 L311.6,338.9 L312.8,334.6 L314.0,339.2 L315.2,333.9 L316.4,333.1 L317.6,333.4 L318.8,335.0 L320.0,334.3 L321.2,336.1 L322.4,333.2 L323.6,338.3 L324.8,339.3 L326.0,333.7 L327.2,330.2 L328.4,338.2 L329.6,339.7 L330.8,334.9 L332.0,330.7 L333.2,336.5 L334.4,341.2 L335.6,328.5 L336.8,337.3 L338.0,334.3 L339.2,332.3 L340.4,337.3 L341.6,330.7 L342.8,336.6 L344.0,340.4 L345.2,336.2 L346.4,332.2 L347.6,328.9 L348.8,330.7 L350.0,327.7 L351.2,340.5 L352.4,333.6 L353.6,330.7 L354.8,329.8 L356.0,330.6 L357.2,333.2 L358.4,329.6 L359.6,340.6 L360.8,331.5 L362.0,331.3 L363.2,335.2 L364.4,339.4 L365.6,338.8 L366.8,331.9 L368.0,334.6 L369.2,334.0 L370.4,335.3 L371.6,334.1 L372.8,329.4 L374.0,328.0 L375.2,333.2 L376.4,327.8 L377.6,337.1 L378.8,331.8 L380.0,327.4 L381.2,329.6 L382.4,328.4 L383.6,329.3 L384.8,332.8 L386.0,323.0 L387.2,320.5 L388.4,328.1 L389.6,325.1 L390.8,325.3 L392.0,325.2 L393.2,321.3 L394.4,323.7 L395.6,315.1 L396.8,317.1 L398.0,311.3 L399.2,307.7 L400.4,312.4 L401.6,309.5 L402.8,295.8 L404.0,296.0 L405.2,298.8 L406.4,298.6 L407.6,287.0 L408.8,285.1 L410.0,275.2 L411.2,289.2 L412.4,275.1 L413.6,272.6 L414.8,266.8 L416.0,263.5 L417.2,257.3 L418.4,247.9 L419.6,249.0 L420.8,241.2 L422.0,243.7 L423.2,229.1 L424.4,226.9 L425.6,230.5 L426.8,231.6 L428.0,223.7 L429.2,217.9 L430.4,220.7 L431.6,218.9 L432.8,233.0 L434.0,229.0 L435.2,233.1 L436.4,230.6 L437.6,229.2 L438.8,242.0 L440.0,248.5 L441.2,247.0 L442.4,248.3 L443.6,258.6 L444.8,255.9 L446.0,266.3 L447.2,263.8 L448.4,267.3 L449.6,279.2 L450.8,282.6 L452.0,294.0 L453.2,288.2 L454.4,293.5 L455.6,292.1 L456.8,292.6 L458.0,296.4 L459.2,309.0 L460.4,305.0 L461.6,317.2 L462.8,320.8 L464.0,316.1 L465.2,325.9 L466.4,322.0 L467.6,327.2 L468.8,323.4 L470.0,329.4 L471.2,323.2 L472.4,330.3 L473.6,327.1 L474.8,329.2 L476.0,332.9 L477.2,331.9 L478.4,331.5 L479.6,335.1 L480.8,335.8 L482.0,328.1 L483.2,335.7 L484.4,336.5 L485.6,331.5 L486.8,336.0 L488.0,329.9 L489.2,340.4 L490.4,334.4 L491.6,335.2 L492.8,340.1 L494.0,335.3 L495.2,338.2 L496.4,332.3 L497.6,333.9 L498.8,330.8 L500.0,335.2 L501.2,339.8 L502.4,336.8 L503.6,339.3 L504.8,332.2 L506.0,332.7 L507.2,334.3 L508.4,338.1 L509.6,337.3 L510.8,335.9 L512.0,338.3 L513.2,335.4 L514.4,335.9 L515.6,340.8 L516.8,333.8 L518.0,336.7 L519.2,342.0 L520.4,336.4 L521.6,338.6 L522.8,333.8 L524.0,343.2 L525.2,327.7 L526.4,331.8 L527.6,332.1 L528.8,342.0 L530.0,337.3 L531.2,335.0 L532.4,331.3 L533.6,337.3 L534.8,336.4" fill="none" stroke="#111" stroke-width="0.8" stroke-linejoin="round" stroke-linecap="round"/>
<text transform="translate(422,291.6) scale(1,1)" font-size="10" font-family="Liberation Sans, Arial, sans-serif" fill="#000" stroke="#000" stroke-width="0.15">Ti-N</text>
</svg>
</body></html>
